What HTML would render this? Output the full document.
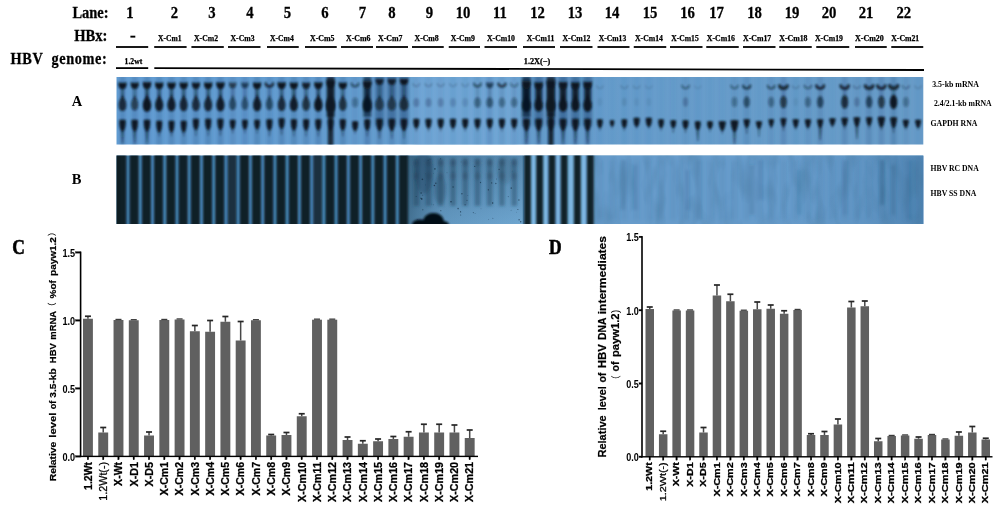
<!DOCTYPE html>
<html><head><meta charset="utf-8"><title>Figure</title>
<style>html,body{margin:0;padding:0;background:#fff}svg{display:block}</style></head>
<body><svg width="1000" height="510" viewBox="0 0 1000 510">
<rect width="1000" height="510" fill="#fff"/>
<g font-family="'Liberation Serif',serif" font-weight="bold" fill="#000" stroke="#000" stroke-width="0.25">
<text transform="translate(72.4,17.6) scale(1,1.10)" font-size="15.5" textLength="36.2" lengthAdjust="spacingAndGlyphs">Lane:</text>
<text transform="translate(74.2,41.2) scale(1,1.12)" font-size="14.3" textLength="33.2" lengthAdjust="spacingAndGlyphs">HBx:</text>
<text transform="translate(10.5,64) scale(1,1.10)" font-size="14.3" textLength="96.3" lengthAdjust="spacing" style="white-space:pre">HBV  genome:</text>
<text transform="translate(130,17.7) scale(0.95,1.10)" font-size="15.5" text-anchor="middle">1</text>
<text transform="translate(174.5,17.7) scale(0.95,1.10)" font-size="15.5" text-anchor="middle">2</text>
<text transform="translate(212,17.7) scale(0.95,1.10)" font-size="15.5" text-anchor="middle">3</text>
<text transform="translate(250,17.7) scale(0.95,1.10)" font-size="15.5" text-anchor="middle">4</text>
<text transform="translate(287.5,17.7) scale(0.95,1.10)" font-size="15.5" text-anchor="middle">5</text>
<text transform="translate(325,17.7) scale(0.95,1.10)" font-size="15.5" text-anchor="middle">6</text>
<text transform="translate(362.5,17.7) scale(0.95,1.10)" font-size="15.5" text-anchor="middle">7</text>
<text transform="translate(392,17.7) scale(0.95,1.10)" font-size="15.5" text-anchor="middle">8</text>
<text transform="translate(429.5,17.7) scale(0.95,1.10)" font-size="15.5" text-anchor="middle">9</text>
<text transform="translate(463,17.7) scale(0.95,1.10)" font-size="15.5" text-anchor="middle">10</text>
<text transform="translate(500,17.7) scale(0.95,1.10)" font-size="15.5" text-anchor="middle">11</text>
<text transform="translate(537.5,17.7) scale(0.95,1.10)" font-size="15.5" text-anchor="middle">12</text>
<text transform="translate(575,17.7) scale(0.95,1.10)" font-size="15.5" text-anchor="middle">13</text>
<text transform="translate(612,17.7) scale(0.95,1.10)" font-size="15.5" text-anchor="middle">14</text>
<text transform="translate(650,17.7) scale(0.95,1.10)" font-size="15.5" text-anchor="middle">15</text>
<text transform="translate(687.5,17.7) scale(0.95,1.10)" font-size="15.5" text-anchor="middle">16</text>
<text transform="translate(716.5,17.7) scale(0.95,1.10)" font-size="15.5" text-anchor="middle">17</text>
<text transform="translate(754.5,17.7) scale(0.95,1.10)" font-size="15.5" text-anchor="middle">18</text>
<text transform="translate(792,17.7) scale(0.95,1.10)" font-size="15.5" text-anchor="middle">19</text>
<text transform="translate(829,17.7) scale(0.95,1.10)" font-size="15.5" text-anchor="middle">20</text>
<text transform="translate(866,17.7) scale(0.95,1.10)" font-size="15.5" text-anchor="middle">21</text>
<text transform="translate(903.75,17.7) scale(0.95,1.10)" font-size="15.5" text-anchor="middle">22</text>
<text x="158" y="41.2" font-size="8.1" textLength="23.50" lengthAdjust="spacingAndGlyphs">X-Cm1</text>
<text x="194" y="41.2" font-size="8.1" textLength="24.00" lengthAdjust="spacingAndGlyphs">X-Cm2</text>
<text x="230.5" y="41.2" font-size="8.1" textLength="24.00" lengthAdjust="spacingAndGlyphs">X-Cm3</text>
<text x="270" y="41.2" font-size="8.1" textLength="23.75" lengthAdjust="spacingAndGlyphs">X-Cm4</text>
<text x="310" y="41.2" font-size="8.1" textLength="24.50" lengthAdjust="spacingAndGlyphs">X-Cm5</text>
<text x="346" y="41.2" font-size="8.1" textLength="24.50" lengthAdjust="spacingAndGlyphs">X-Cm6</text>
<text x="378" y="41.2" font-size="8.1" textLength="24.50" lengthAdjust="spacingAndGlyphs">X-Cm7</text>
<text x="414.5" y="41.2" font-size="8.1" textLength="24.25" lengthAdjust="spacingAndGlyphs">X-Cm8</text>
<text x="450.75" y="41.2" font-size="8.1" textLength="24.25" lengthAdjust="spacingAndGlyphs">X-Cm9</text>
<text x="487" y="41.2" font-size="8.1" textLength="28.00" lengthAdjust="spacingAndGlyphs">X-Cm10</text>
<text x="526.75" y="41.2" font-size="8.1" textLength="27.50" lengthAdjust="spacingAndGlyphs">X-Cm11</text>
<text x="562.5" y="41.2" font-size="8.1" textLength="28.00" lengthAdjust="spacingAndGlyphs">X-Cm12</text>
<text x="598.75" y="41.2" font-size="8.1" textLength="27.50" lengthAdjust="spacingAndGlyphs">X-Cm13</text>
<text x="635" y="41.2" font-size="8.1" textLength="28.00" lengthAdjust="spacingAndGlyphs">X-Cm14</text>
<text x="671.25" y="41.2" font-size="8.1" textLength="27.50" lengthAdjust="spacingAndGlyphs">X-Cm15</text>
<text x="706.75" y="41.2" font-size="8.1" textLength="28.25" lengthAdjust="spacingAndGlyphs">X-Cm16</text>
<text x="743" y="41.2" font-size="8.1" textLength="28.25" lengthAdjust="spacingAndGlyphs">X-Cm17</text>
<text x="779.25" y="41.2" font-size="8.1" textLength="28.25" lengthAdjust="spacingAndGlyphs">X-Cm18</text>
<text x="815" y="41.2" font-size="8.1" textLength="28.00" lengthAdjust="spacingAndGlyphs">X-Cm19</text>
<text x="855" y="41.2" font-size="8.1" textLength="28.75" lengthAdjust="spacingAndGlyphs">X-Cm20</text>
<text x="891.25" y="41.2" font-size="8.1" textLength="28.00" lengthAdjust="spacingAndGlyphs">X-Cm21</text>
<text x="124.6" y="64" font-size="7.4" textLength="17.6" lengthAdjust="spacingAndGlyphs">1.2wt</text>
<text x="523.75" y="64" font-size="7.4" textLength="26.5" lengthAdjust="spacingAndGlyphs">1.2X(−)</text>
</g>
<rect x="130.4" y="35.7" width="4.9" height="1.9" fill="#000"/>
<rect x="116" y="46.1" width="32.20" height="1.8" fill="#000"/>
<rect x="154.2" y="46.1" width="32.40" height="1.8" fill="#000"/>
<rect x="191.4" y="46.1" width="32.40" height="1.8" fill="#000"/>
<rect x="228" y="46.1" width="32.50" height="1.8" fill="#000"/>
<rect x="267" y="46.1" width="31.75" height="1.8" fill="#000"/>
<rect x="305" y="46.1" width="31.75" height="1.8" fill="#000"/>
<rect x="341" y="46.1" width="32.00" height="1.8" fill="#000"/>
<rect x="376" y="46.1" width="32.00" height="1.8" fill="#000"/>
<rect x="412" y="46.1" width="31.75" height="1.8" fill="#000"/>
<rect x="448.75" y="46.1" width="31.25" height="1.8" fill="#000"/>
<rect x="484.5" y="46.1" width="32.50" height="1.8" fill="#000"/>
<rect x="523" y="46.1" width="32.00" height="1.8" fill="#000"/>
<rect x="560" y="46.1" width="32.50" height="1.8" fill="#000"/>
<rect x="597.5" y="46.1" width="32.00" height="1.8" fill="#000"/>
<rect x="633.75" y="46.1" width="32.50" height="1.8" fill="#000"/>
<rect x="670" y="46.1" width="32.50" height="1.8" fill="#000"/>
<rect x="706.25" y="46.1" width="32.50" height="1.8" fill="#000"/>
<rect x="743" y="46.1" width="32.50" height="1.8" fill="#000"/>
<rect x="779.25" y="46.1" width="32.50" height="1.8" fill="#000"/>
<rect x="816.25" y="46.1" width="33.00" height="1.8" fill="#000"/>
<rect x="855" y="46.1" width="31.75" height="1.8" fill="#000"/>
<rect x="891.25" y="46.1" width="32.00" height="1.8" fill="#000"/>
<rect x="116" y="67.2" width="32.2" height="1.8" fill="#000"/>
<path d="M154.3 67.2 L924 69.1 L924 70.9 L154.3 69.0Z" fill="#000"/>
<g font-family="'Liberation Serif',serif" font-weight="bold" fill="#000">
<text x="71.7" y="106.3" font-size="14.5">A</text>
<text x="71.7" y="183.6" font-size="14.5">B</text>
<text transform="translate(12.2,253.8) scale(1,1.2)" font-size="17.5" stroke="#000" stroke-width="0.5">C</text>
<text transform="translate(549,253.6) scale(1,1.2)" font-size="17.5" stroke="#000" stroke-width="0.5">D</text>
<text x="932.2" y="87.19999999999999" font-size="8.3" textLength="46.80" lengthAdjust="spacingAndGlyphs">3.5-kb mRNA</text>
<text x="934" y="106.19999999999999" font-size="8.3" textLength="57.70" lengthAdjust="spacingAndGlyphs">2.4/2.1-kb mRNA</text>
<text x="930.5" y="125.69999999999999" font-size="8.3" textLength="46.90" lengthAdjust="spacingAndGlyphs">GAPDH RNA</text>
<text x="930.5" y="170.6" font-size="8.3" textLength="48.25" lengthAdjust="spacingAndGlyphs">HBV RC DNA</text>
<text x="930.5" y="195.6" font-size="8.3" textLength="45.80" lengthAdjust="spacingAndGlyphs">HBV SS DNA</text>
</g>
<defs>
<filter id="b1" x="-50%" y="-50%" width="200%" height="200%"><feGaussianBlur stdDeviation="1.1"/></filter>
<filter id="b2" x="-50%" y="-50%" width="200%" height="200%"><feGaussianBlur stdDeviation="1.8"/></filter>
<filter id="b3" x="-50%" y="-50%" width="200%" height="200%"><feGaussianBlur stdDeviation="0.9"/></filter>
<clipPath id="ca"><rect x="116.5" y="77" width="806.8" height="67.5"/></clipPath>
<clipPath id="cb"><rect x="116.5" y="155.5" width="806.8" height="68.5"/></clipPath>
</defs>
<linearGradient id="ga" x1="0" x2="1" y1="0" y2="0"><stop offset="0" stop-color="#639dd3"/><stop offset="0.45" stop-color="#669dcd"/><stop offset="1" stop-color="#689cc8"/></linearGradient>
<rect x="116.5" y="77" width="806.8" height="67.5" fill="url(#ga)"/>
<filter id="b15" x="-50%" y="-50%" width="200%" height="200%"><feGaussianBlur stdDeviation="1.25"/></filter>
<g clip-path="url(#ca)">
<linearGradient id="gl" x1="0" x2="1" y1="0" y2="0"><stop offset="0" stop-color="#78acda" stop-opacity="0"/><stop offset="0.12" stop-color="#78acda" stop-opacity="0.6"/><stop offset="0.88" stop-color="#78acda" stop-opacity="0.6"/><stop offset="1" stop-color="#78acda" stop-opacity="0"/></linearGradient>
<rect x="404" y="76" width="124" height="70" fill="url(#gl)"/>
<g filter="url(#b2)">
<rect x="119.5" y="76" width="6" height="70" fill="#2c5c92" opacity="0.31"/>
<rect x="131.7" y="76" width="6" height="70" fill="#2c5c92" opacity="0.29"/>
<rect x="144.0" y="76" width="6" height="70" fill="#2c5c92" opacity="0.34"/>
<rect x="156.2" y="76" width="6" height="70" fill="#2c5c92" opacity="0.31"/>
<rect x="168.5" y="76" width="6" height="70" fill="#2c5c92" opacity="0.31"/>
<rect x="180.7" y="76" width="6" height="70" fill="#2c5c92" opacity="0.31"/>
<rect x="192.9" y="76" width="6" height="70" fill="#2c5c92" opacity="0.29"/>
<rect x="205.2" y="76" width="6" height="70" fill="#2c5c92" opacity="0.31"/>
<rect x="217.4" y="76" width="6" height="70" fill="#2c5c92" opacity="0.32"/>
<rect x="229.7" y="76" width="6" height="70" fill="#2c5c92" opacity="0.22"/>
<rect x="241.9" y="76" width="6" height="70" fill="#2c5c92" opacity="0.21"/>
<rect x="254.1" y="76" width="6" height="70" fill="#2c5c92" opacity="0.31"/>
<rect x="266.4" y="76" width="6" height="70" fill="#2c5c92" opacity="0.21"/>
<rect x="278.6" y="76" width="6" height="70" fill="#2c5c92" opacity="0.32"/>
<rect x="290.9" y="76" width="6" height="70" fill="#2c5c92" opacity="0.31"/>
<rect x="303.1" y="76" width="6" height="70" fill="#2c5c92" opacity="0.28"/>
<rect x="315.3" y="76" width="6" height="70" fill="#2c5c92" opacity="0.32"/>
<rect x="327.6" y="76" width="6" height="70" fill="#2c5c92" opacity="0.43"/>
<rect x="339.8" y="76" width="6" height="70" fill="#2c5c92" opacity="0.31"/>
<rect x="352.1" y="76" width="6" height="70" fill="#2c5c92" opacity="0.13"/>
<rect x="364.3" y="76" width="6" height="70" fill="#2c5c92" opacity="0.38"/>
<rect x="376.5" y="76" width="6" height="70" fill="#2c5c92" opacity="0.28"/>
<rect x="374.5" y="76" width="10" height="50" fill="#1d426e" opacity="0.35"/>
<rect x="388.8" y="76" width="6" height="70" fill="#2c5c92" opacity="0.28"/>
<rect x="386.8" y="76" width="10" height="50" fill="#1d426e" opacity="0.35"/>
<rect x="401.0" y="76" width="6" height="70" fill="#2c5c92" opacity="0.31"/>
<rect x="399.0" y="76" width="10" height="50" fill="#1d426e" opacity="0.35"/>
<rect x="413.3" y="76" width="6" height="70" fill="#2c5c92" opacity="0.10"/>
<rect x="425.5" y="76" width="6" height="70" fill="#2c5c92" opacity="0.10"/>
<rect x="437.7" y="76" width="6" height="70" fill="#2c5c92" opacity="0.09"/>
<rect x="450.0" y="76" width="6" height="70" fill="#2c5c92" opacity="0.08"/>
<rect x="462.2" y="76" width="6" height="70" fill="#2c5c92" opacity="0.08"/>
<rect x="474.5" y="76" width="6" height="70" fill="#2c5c92" opacity="0.16"/>
<rect x="486.7" y="76" width="6" height="70" fill="#2c5c92" opacity="0.21"/>
<rect x="498.9" y="76" width="6" height="70" fill="#2c5c92" opacity="0.16"/>
<rect x="511.2" y="76" width="6" height="70" fill="#2c5c92" opacity="0.14"/>
<rect x="523.4" y="76" width="6" height="70" fill="#2c5c92" opacity="0.38"/>
<rect x="521.4" y="76" width="10" height="50" fill="#1d426e" opacity="0.35"/>
<rect x="535.7" y="76" width="6" height="70" fill="#2c5c92" opacity="0.32"/>
<rect x="533.7" y="76" width="10" height="50" fill="#1d426e" opacity="0.35"/>
<rect x="547.9" y="76" width="6" height="70" fill="#2c5c92" opacity="0.41"/>
<rect x="545.9" y="76" width="10" height="50" fill="#1d426e" opacity="0.35"/>
<rect x="560.1" y="76" width="6" height="70" fill="#2c5c92" opacity="0.34"/>
<rect x="558.1" y="76" width="10" height="50" fill="#1d426e" opacity="0.35"/>
<rect x="572.4" y="76" width="6" height="70" fill="#2c5c92" opacity="0.32"/>
<rect x="570.4" y="76" width="10" height="50" fill="#1d426e" opacity="0.35"/>
<rect x="584.6" y="76" width="6" height="70" fill="#2c5c92" opacity="0.35"/>
<rect x="582.6" y="76" width="10" height="50" fill="#1d426e" opacity="0.35"/>
<rect x="596.9" y="76" width="6" height="70" fill="#2c5c92" opacity="0.06"/>
<rect x="609.1" y="76" width="6" height="70" fill="#2c5c92" opacity="0.04"/>
<rect x="621.3" y="76" width="6" height="70" fill="#2c5c92" opacity="0.07"/>
<rect x="633.6" y="76" width="6" height="70" fill="#2c5c92" opacity="0.06"/>
<rect x="645.8" y="76" width="6" height="70" fill="#2c5c92" opacity="0.06"/>
<rect x="658.1" y="76" width="6" height="70" fill="#2c5c92" opacity="0.04"/>
<rect x="670.3" y="76" width="6" height="70" fill="#2c5c92" opacity="0.04"/>
<rect x="682.5" y="76" width="6" height="70" fill="#2c5c92" opacity="0.13"/>
<rect x="694.8" y="76" width="6" height="70" fill="#2c5c92" opacity="0.06"/>
<rect x="707.0" y="76" width="6" height="70" fill="#2c5c92" opacity="0.04"/>
<rect x="719.3" y="76" width="6" height="70" fill="#2c5c92" opacity="0.04"/>
<rect x="731.5" y="76" width="6" height="70" fill="#2c5c92" opacity="0.13"/>
<rect x="743.7" y="76" width="6" height="70" fill="#2c5c92" opacity="0.19"/>
<rect x="756.0" y="76" width="6" height="70" fill="#2c5c92" opacity="0.04"/>
<rect x="768.2" y="76" width="6" height="70" fill="#2c5c92" opacity="0.14"/>
<rect x="780.5" y="76" width="6" height="70" fill="#2c5c92" opacity="0.26"/>
<rect x="792.7" y="76" width="6" height="70" fill="#2c5c92" opacity="0.07"/>
<rect x="804.9" y="76" width="6" height="70" fill="#2c5c92" opacity="0.14"/>
<rect x="817.2" y="76" width="6" height="70" fill="#2c5c92" opacity="0.22"/>
<rect x="829.4" y="76" width="6" height="70" fill="#2c5c92" opacity="0.04"/>
<rect x="841.7" y="76" width="6" height="70" fill="#2c5c92" opacity="0.26"/>
<rect x="853.9" y="76" width="6" height="70" fill="#2c5c92" opacity="0.10"/>
<rect x="866.1" y="76" width="6" height="70" fill="#2c5c92" opacity="0.26"/>
<rect x="878.4" y="76" width="6" height="70" fill="#2c5c92" opacity="0.25"/>
<rect x="890.6" y="76" width="6" height="70" fill="#2c5c92" opacity="0.31"/>
<rect x="902.9" y="76" width="6" height="70" fill="#2c5c92" opacity="0.13"/>
<rect x="915.1" y="76" width="6" height="70" fill="#2c5c92" opacity="0.06"/>
</g>
<g filter="url(#b15)">
<path d="M122.5 94.5 C124.0 98.7 126.4 100.3 126.4 104.9 C126.4 113.2 118.6 113.2 118.6 104.9 C118.6 100.3 121.0 98.7 122.5 94.5Z" fill="#0a1823" opacity="0.84"/>
<rect x="120.9" y="85" width="3.2" height="15" fill="#0a1823" opacity="0.40"/>
<path d="M134.7 94.9 C136.2 98.8 138.3 100.4 138.3 104.6 C138.3 112.6 131.1 112.6 131.1 104.6 C131.1 100.4 133.3 98.8 134.7 94.9Z" fill="#0a1823" opacity="0.68"/>
<rect x="133.1" y="85" width="3.2" height="15" fill="#0a1823" opacity="0.28"/>
<path d="M147.0 94.0 C148.7 98.5 151.2 100.3 151.2 105.2 C151.2 114.0 142.8 114.0 142.8 105.2 C142.8 100.3 145.3 98.5 147.0 94.0Z" fill="#0a1823" opacity="1.00"/>
<rect x="145.4" y="85" width="3.2" height="15" fill="#0a1823" opacity="0.56"/>
<path d="M159.2 94.2 C160.8 98.6 163.2 100.3 163.2 105.0 C163.2 113.6 155.2 113.6 155.2 105.0 C155.2 100.3 157.6 98.6 159.2 94.2Z" fill="#0a1823" opacity="0.95"/>
<rect x="157.6" y="85" width="3.2" height="15" fill="#0a1823" opacity="0.48"/>
<path d="M171.5 94.2 C173.1 98.6 175.5 100.3 175.5 105.0 C175.5 113.6 167.4 113.6 167.4 105.0 C167.4 100.3 169.8 98.6 171.5 94.2Z" fill="#0a1823" opacity="0.95"/>
<rect x="169.9" y="85" width="3.2" height="15" fill="#0a1823" opacity="0.48"/>
<path d="M183.7 94.4 C185.3 98.6 187.6 100.3 187.6 104.9 C187.6 113.4 179.8 113.4 179.8 104.9 C179.8 100.3 182.1 98.6 183.7 94.4Z" fill="#0a1823" opacity="0.89"/>
<rect x="182.1" y="85" width="3.2" height="15" fill="#0a1823" opacity="0.44"/>
<path d="M195.9 94.5 C197.5 98.7 199.8 100.3 199.8 104.9 C199.8 113.2 192.1 113.2 192.1 104.9 C192.1 100.3 194.4 98.7 195.9 94.5Z" fill="#0a1823" opacity="0.84"/>
<rect x="194.3" y="85" width="3.2" height="15" fill="#0a1823" opacity="0.40"/>
<path d="M208.2 94.4 C209.8 98.6 212.1 100.3 212.1 104.9 C212.1 113.4 204.2 113.4 204.2 104.9 C204.2 100.3 206.6 98.6 208.2 94.4Z" fill="#0a1823" opacity="0.89"/>
<rect x="206.6" y="85" width="3.2" height="15" fill="#0a1823" opacity="0.44"/>
<path d="M220.4 94.2 C222.0 98.6 224.5 100.3 224.5 105.0 C224.5 113.6 216.4 113.6 216.4 105.0 C216.4 100.3 218.8 98.6 220.4 94.2Z" fill="#0a1823" opacity="0.95"/>
<rect x="218.8" y="85" width="3.2" height="15" fill="#0a1823" opacity="0.48"/>
<path d="M232.7 95.1 C234.0 98.9 236.1 100.4 236.1 104.5 C236.1 112.2 229.2 112.2 229.2 104.5 C229.2 100.4 231.3 98.9 232.7 95.1Z" fill="#0a1823" opacity="0.58"/>
<rect x="231.1" y="85" width="3.2" height="15" fill="#0a1823" opacity="0.20"/>
<path d="M244.9 95.2 C246.2 98.9 248.2 100.4 248.2 104.4 C248.2 112.0 241.6 112.0 241.6 104.4 C241.6 100.4 243.6 98.9 244.9 95.2Z" fill="#0a1823" opacity="0.53"/>
<rect x="243.3" y="85" width="3.2" height="15" fill="#0a1823" opacity="0.16"/>
<path d="M257.1 94.2 C258.8 98.6 261.2 100.3 261.2 105.0 C261.2 113.6 253.1 113.6 253.1 105.0 C253.1 100.3 255.5 98.6 257.1 94.2Z" fill="#0a1823" opacity="0.95"/>
<rect x="255.5" y="85" width="3.2" height="15" fill="#0a1823" opacity="0.48"/>
<path d="M269.4 95.1 C270.8 98.9 272.8 100.4 272.8 104.5 C272.8 112.2 265.9 112.2 265.9 104.5 C265.9 100.4 268.0 98.9 269.4 95.1Z" fill="#0a1823" opacity="0.58"/>
<rect x="267.8" y="85" width="3.2" height="15" fill="#0a1823" opacity="0.20"/>
<path d="M281.6 94.5 C283.2 98.7 285.5 100.3 285.5 104.9 C285.5 113.2 277.8 113.2 277.8 104.9 C277.8 100.3 280.1 98.7 281.6 94.5Z" fill="#0a1823" opacity="0.84"/>
<rect x="280.0" y="85" width="3.2" height="15" fill="#0a1823" opacity="0.40"/>
<path d="M293.9 94.2 C295.5 98.6 297.9 100.3 297.9 105.0 C297.9 113.6 289.8 113.6 289.8 105.0 C289.8 100.3 292.2 98.6 293.9 94.2Z" fill="#0a1823" opacity="0.95"/>
<rect x="292.3" y="85" width="3.2" height="15" fill="#0a1823" opacity="0.48"/>
<path d="M306.1 94.6 C307.6 98.7 309.9 100.4 309.9 104.8 C309.9 113.0 302.3 113.0 302.3 104.8 C302.3 100.4 304.6 98.7 306.1 94.6Z" fill="#0a1823" opacity="0.79"/>
<rect x="304.5" y="85" width="3.2" height="15" fill="#0a1823" opacity="0.36"/>
<path d="M318.3 94.1 C320.0 98.5 322.5 100.3 322.5 105.1 C322.5 113.8 314.2 113.8 314.2 105.1 C314.2 100.3 316.7 98.5 318.3 94.1Z" fill="#0a1823" opacity="1.00"/>
<rect x="316.7" y="85" width="3.2" height="15" fill="#0a1823" opacity="0.52"/>
<path d="M330.6 93.2 C332.5 98.2 335.3 100.2 335.3 105.6 C335.3 115.2 325.9 115.2 325.9 105.6 C325.9 100.2 328.7 98.2 330.6 93.2Z" fill="#0a1823" opacity="1.00"/>
<rect x="329.0" y="85" width="3.2" height="15" fill="#0a1823" opacity="0.80"/>
<path d="M342.8 94.6 C344.3 98.7 346.6 100.4 346.6 104.8 C346.6 113.0 339.0 113.0 339.0 104.8 C339.0 100.4 341.3 98.7 342.8 94.6Z" fill="#0a1823" opacity="0.79"/>
<rect x="341.2" y="85" width="3.2" height="15" fill="#0a1823" opacity="0.36"/>
<ellipse cx="355.1" cy="102.5" rx="3.0" ry="4.9" fill="#0a1823" opacity="0.33"/>
<path d="M367.3 93.6 C369.1 98.4 371.8 100.3 371.8 105.4 C371.8 114.6 362.8 114.6 362.8 105.4 C362.8 100.3 365.5 98.4 367.3 93.6Z" fill="#0a1823" opacity="1.00"/>
<rect x="365.7" y="85" width="3.2" height="15" fill="#0a1823" opacity="0.68"/>
<path d="M379.5 94.9 C381.2 98.8 383.7 100.4 383.7 104.6 C383.7 112.6 375.3 112.6 375.3 104.6 C375.3 100.4 377.9 98.8 379.5 94.9Z" fill="#0a1823" opacity="0.68"/>
<rect x="377.9" y="85" width="3.2" height="15" fill="#0a1823" opacity="0.28"/>
<path d="M391.8 94.9 C393.5 98.8 396.0 100.4 396.0 104.6 C396.0 112.6 387.6 112.6 387.6 104.6 C387.6 100.4 390.1 98.8 391.8 94.9Z" fill="#0a1823" opacity="0.68"/>
<rect x="390.2" y="85" width="3.2" height="15" fill="#0a1823" opacity="0.28"/>
<path d="M404.0 94.6 C405.8 98.7 408.4 100.4 408.4 104.8 C408.4 113.0 399.6 113.0 399.6 104.8 C399.6 100.4 402.3 98.7 404.0 94.6Z" fill="#0a1823" opacity="0.79"/>
<rect x="402.4" y="85" width="3.2" height="15" fill="#0a1823" opacity="0.36"/>
<ellipse cx="416.3" cy="102.5" rx="2.9" ry="4.6" fill="#0a1823" opacity="0.22"/>
<ellipse cx="428.5" cy="102.5" rx="2.9" ry="4.6" fill="#0a1823" opacity="0.22"/>
<ellipse cx="440.7" cy="102.5" rx="2.9" ry="4.5" fill="#0a1823" opacity="0.20"/>
<ellipse cx="453.0" cy="102.5" rx="2.8" ry="4.5" fill="#0a1823" opacity="0.17"/>
<ellipse cx="465.2" cy="102.5" rx="2.8" ry="4.4" fill="#0a1823" opacity="0.13"/>
<ellipse cx="477.5" cy="102.5" rx="3.2" ry="5.2" fill="#0a1823" opacity="0.44"/>
<rect x="475.9" y="85" width="3.2" height="15" fill="#0a1823" opacity="0.08"/>
<ellipse cx="489.7" cy="102.5" rx="3.3" ry="5.3" fill="#0a1823" opacity="0.50"/>
<rect x="488.1" y="85" width="3.2" height="15" fill="#0a1823" opacity="0.12"/>
<ellipse cx="501.9" cy="102.5" rx="3.1" ry="5.0" fill="#0a1823" opacity="0.39"/>
<rect x="500.3" y="85" width="3.2" height="15" fill="#0a1823" opacity="0.04"/>
<ellipse cx="514.2" cy="102.5" rx="3.1" ry="5.0" fill="#0a1823" opacity="0.39"/>
<rect x="512.6" y="85" width="3.2" height="15" fill="#0a1823" opacity="0.04"/>
<path d="M526.4 93.8 C528.2 98.4 530.8 100.3 530.8 105.3 C530.8 114.4 522.1 114.4 522.1 105.3 C522.1 100.3 524.7 98.4 526.4 93.8Z" fill="#0a1823" opacity="1.00"/>
<rect x="523.4" y="85" width="6.0" height="15" fill="#0a1823" opacity="0.90"/>
<path d="M538.7 94.1 C540.3 98.5 542.8 100.3 542.8 105.1 C542.8 113.8 534.5 113.8 534.5 105.1 C534.5 100.3 537.0 98.5 538.7 94.1Z" fill="#0a1823" opacity="1.00"/>
<rect x="535.7" y="85" width="6.0" height="15" fill="#0a1823" opacity="0.90"/>
<path d="M550.9 93.5 C552.7 98.3 555.4 100.3 555.4 105.5 C555.4 114.8 546.4 114.8 546.4 105.5 C546.4 100.3 549.1 98.3 550.9 93.5Z" fill="#0a1823" opacity="1.00"/>
<rect x="547.9" y="85" width="6.0" height="15" fill="#0a1823" opacity="0.90"/>
<path d="M563.1 94.0 C564.8 98.5 567.3 100.3 567.3 105.2 C567.3 114.0 558.9 114.0 558.9 105.2 C558.9 100.3 561.5 98.5 563.1 94.0Z" fill="#0a1823" opacity="1.00"/>
<rect x="560.1" y="85" width="6.0" height="15" fill="#0a1823" opacity="0.90"/>
<path d="M575.4 94.1 C577.0 98.5 579.5 100.3 579.5 105.1 C579.5 113.8 571.3 113.8 571.3 105.1 C571.3 100.3 573.7 98.5 575.4 94.1Z" fill="#0a1823" opacity="1.00"/>
<rect x="572.4" y="85" width="6.0" height="15" fill="#0a1823" opacity="0.90"/>
<path d="M587.6 94.0 C589.3 98.5 591.8 100.3 591.8 105.2 C591.8 114.0 583.4 114.0 583.4 105.2 C583.4 100.3 585.9 98.5 587.6 94.0Z" fill="#0a1823" opacity="1.00"/>
<rect x="584.6" y="85" width="6.0" height="15" fill="#0a1823" opacity="0.90"/>
<ellipse cx="599.9" cy="102.0" rx="2.4" ry="4.2" fill="#0a1823" opacity="0.06"/>
<ellipse cx="624.3" cy="102.0" rx="2.4" ry="4.3" fill="#0a1823" opacity="0.09"/>
<ellipse cx="636.6" cy="102.0" rx="2.4" ry="4.2" fill="#0a1823" opacity="0.06"/>
<ellipse cx="648.8" cy="102.0" rx="2.4" ry="4.2" fill="#0a1823" opacity="0.06"/>
<ellipse cx="685.5" cy="102.0" rx="2.6" ry="4.7" fill="#0a1823" opacity="0.22"/>
<ellipse cx="734.5" cy="102.0" rx="2.8" ry="5.1" fill="#0a1823" opacity="0.33"/>
<ellipse cx="746.7" cy="102.0" rx="3.1" ry="5.8" fill="#0a1823" opacity="0.55"/>
<rect x="745.1" y="85" width="3.2" height="15" fill="#0a1823" opacity="0.02"/>
<ellipse cx="771.2" cy="102.0" rx="2.9" ry="5.3" fill="#0a1823" opacity="0.39"/>
<ellipse cx="783.5" cy="102.0" rx="3.3" ry="6.3" fill="#0a1823" opacity="0.72"/>
<rect x="781.9" y="85" width="3.2" height="15" fill="#0a1823" opacity="0.10"/>
<ellipse cx="795.7" cy="102.0" rx="2.4" ry="4.2" fill="#0a1823" opacity="0.06"/>
<ellipse cx="807.9" cy="102.0" rx="2.9" ry="5.3" fill="#0a1823" opacity="0.39"/>
<ellipse cx="820.2" cy="102.0" rx="3.2" ry="6.0" fill="#0a1823" opacity="0.61"/>
<rect x="818.6" y="85" width="3.2" height="15" fill="#0a1823" opacity="0.05"/>
<ellipse cx="844.7" cy="102.0" rx="3.5" ry="6.7" fill="#0a1823" opacity="0.83"/>
<rect x="843.1" y="85" width="3.2" height="15" fill="#0a1823" opacity="0.15"/>
<ellipse cx="856.9" cy="102.0" rx="2.6" ry="4.7" fill="#0a1823" opacity="0.22"/>
<ellipse cx="869.1" cy="102.0" rx="3.2" ry="6.0" fill="#0a1823" opacity="0.61"/>
<rect x="867.5" y="85" width="3.2" height="15" fill="#0a1823" opacity="0.05"/>
<ellipse cx="881.4" cy="102.0" rx="3.3" ry="6.3" fill="#0a1823" opacity="0.72"/>
<rect x="879.8" y="85" width="3.2" height="15" fill="#0a1823" opacity="0.10"/>
<ellipse cx="893.6" cy="102.0" rx="3.7" ry="7.2" fill="#0a1823" opacity="0.99"/>
<rect x="892.0" y="85" width="3.2" height="15" fill="#0a1823" opacity="0.23"/>
<ellipse cx="905.9" cy="102.0" rx="2.8" ry="5.1" fill="#0a1823" opacity="0.33"/>
</g>
<g filter="url(#b1)">
<path d="M118.4 82.2 Q122.5 83.4 126.6 82.2 L126.6 84.3 C126.6 90.8 118.4 90.8 118.4 84.3Z" fill="#0a1823" opacity="1.00"/>
<path d="M119.3 119.9 Q122.5 118.9 125.7 119.9 L125.7 123.1 C125.4 134.3 119.6 134.3 119.3 123.1Z" fill="#0a1823" opacity="0.98"/>
<path d="M120.8 128.5 L124.2 128.5 L123.0 143.5 L122.0 143.5Z" fill="#0a1823" opacity="0.5"/>
<path d="M130.7 82.2 Q134.7 83.4 138.8 82.2 L138.8 84.3 C138.8 90.7 130.7 90.7 130.7 84.3Z" fill="#0a1823" opacity="0.98"/>
<path d="M131.5 119.9 Q134.7 118.9 137.9 119.9 L137.9 123.1 C137.6 134.3 131.9 134.3 131.5 123.1Z" fill="#0a1823" opacity="0.98"/>
<path d="M133.0 128.5 L136.4 128.5 L135.2 143.5 L134.2 143.5Z" fill="#0a1823" opacity="0.5"/>
<path d="M142.8 81.7 Q147.0 82.9 151.2 81.7 L151.2 83.9 C151.2 90.7 142.8 90.7 142.8 83.9Z" fill="#0a1823" opacity="1.00"/>
<path d="M143.8 119.9 Q147.0 118.9 150.2 119.9 L150.2 123.1 C149.9 134.3 144.1 134.3 143.8 123.1Z" fill="#0a1823" opacity="0.98"/>
<path d="M145.3 128.5 L148.7 128.5 L147.5 143.5 L146.5 143.5Z" fill="#0a1823" opacity="0.5"/>
<path d="M155.1 82.2 Q159.2 83.4 163.3 82.2 L163.3 84.3 C163.3 90.8 155.1 90.8 155.1 84.3Z" fill="#0a1823" opacity="1.00"/>
<path d="M156.3 120.9 Q159.2 119.9 162.1 120.9 L162.1 124.1 C161.8 135.3 156.6 135.3 156.3 124.1Z" fill="#0a1823" opacity="0.98"/>
<path d="M157.5 129.5 L160.9 129.5 L159.7 136.5 L158.7 136.5Z" fill="#0a1823" opacity="0.32"/>
<path d="M167.4 82.2 Q171.5 83.4 175.6 82.2 L175.6 84.3 C175.6 90.8 167.4 90.8 167.4 84.3Z" fill="#0a1823" opacity="1.00"/>
<path d="M168.6 120.9 Q171.5 119.9 174.4 120.9 L174.4 124.1 C174.1 135.3 168.8 135.3 168.6 124.1Z" fill="#0a1823" opacity="0.98"/>
<path d="M169.8 129.5 L173.2 129.5 L172.0 136.5 L171.0 136.5Z" fill="#0a1823" opacity="0.32"/>
<path d="M179.6 82.2 Q183.7 83.4 187.8 82.2 L187.8 84.3 C187.8 90.8 179.6 90.8 179.6 84.3Z" fill="#0a1823" opacity="1.00"/>
<path d="M180.8 120.9 Q183.7 119.9 186.6 120.9 L186.6 124.1 C186.3 135.3 181.1 135.3 180.8 124.1Z" fill="#0a1823" opacity="0.98"/>
<path d="M182.0 129.5 L185.4 129.5 L184.2 136.5 L183.2 136.5Z" fill="#0a1823" opacity="0.32"/>
<path d="M191.9 82.2 Q195.9 83.4 200.0 82.2 L200.0 84.3 C200.0 90.7 191.9 90.7 191.9 84.3Z" fill="#0a1823" opacity="0.98"/>
<path d="M192.9 118.9 Q195.9 117.9 198.9 118.9 L198.9 122.0 C198.6 132.7 193.2 132.7 192.9 122.0Z" fill="#0a1823" opacity="0.98"/>
<path d="M194.2 127.0 L197.6 127.0 L196.4 136.0 L195.4 136.0Z" fill="#0a1823" opacity="0.32"/>
<path d="M204.1 82.2 Q208.2 83.4 212.3 82.2 L212.3 84.3 C212.3 90.8 204.1 90.8 204.1 84.3Z" fill="#0a1823" opacity="1.00"/>
<path d="M205.2 118.9 Q208.2 117.9 211.2 118.9 L211.2 122.0 C210.9 132.7 205.5 132.7 205.2 122.0Z" fill="#0a1823" opacity="0.98"/>
<path d="M206.5 127.0 L209.9 127.0 L208.7 136.0 L207.7 136.0Z" fill="#0a1823" opacity="0.32"/>
<path d="M216.3 82.0 Q220.4 83.2 224.6 82.0 L224.6 84.1 C224.6 90.8 216.3 90.8 216.3 84.1Z" fill="#0a1823" opacity="1.00"/>
<path d="M217.4 118.9 Q220.4 117.9 223.4 118.9 L223.4 122.0 C223.1 132.7 217.7 132.7 217.4 122.0Z" fill="#0a1823" opacity="0.98"/>
<path d="M218.7 127.0 L222.1 127.0 L220.9 136.0 L219.9 136.0Z" fill="#0a1823" opacity="0.32"/>
<path d="M228.9 82.2 Q232.7 83.4 236.4 82.2 L236.4 84.1 C236.4 89.8 228.9 89.8 228.9 84.1Z" fill="#0a1823" opacity="0.69"/>
<path d="M229.9 119.9 Q232.7 118.9 235.5 119.9 L235.5 122.5 C235.2 131.8 230.1 131.8 229.9 122.5Z" fill="#0a1823" opacity="0.98"/>
<path d="M231.0 126.5 L234.4 126.5 L233.2 133.5 L232.2 133.5Z" fill="#0a1823" opacity="0.32"/>
<path d="M241.2 82.2 Q244.9 83.4 248.6 82.2 L248.6 84.0 C248.6 89.6 241.2 89.6 241.2 84.0Z" fill="#0a1823" opacity="0.63"/>
<path d="M242.1 119.9 Q244.9 118.9 247.7 119.9 L247.7 122.5 C247.4 131.8 242.4 131.8 242.1 122.5Z" fill="#0a1823" opacity="0.98"/>
<path d="M243.2 126.5 L246.6 126.5 L245.4 133.5 L244.4 133.5Z" fill="#0a1823" opacity="0.32"/>
<path d="M253.0 82.2 Q257.1 83.4 261.2 82.2 L261.2 84.3 C261.2 90.8 253.0 90.8 253.0 84.3Z" fill="#0a1823" opacity="1.00"/>
<path d="M254.3 119.9 Q257.1 118.9 259.9 119.9 L259.9 122.5 C259.7 131.8 254.6 131.8 254.3 122.5Z" fill="#0a1823" opacity="0.98"/>
<path d="M255.4 126.5 L258.8 126.5 L257.6 133.5 L256.6 133.5Z" fill="#0a1823" opacity="0.32"/>
<path d="M265.8 83.7 C266.5 87.3 272.3 87.3 273.0 83.7" fill="none" stroke="#0a1823" stroke-width="2.7" stroke-linecap="round" opacity="0.82"/>
<path d="M266.4 119.4 Q269.4 118.4 272.4 119.4 L272.4 122.5 C272.1 133.2 266.7 133.2 266.4 122.5Z" fill="#0a1823" opacity="0.98"/>
<path d="M267.7 127.5 L271.1 127.5 L269.9 136.5 L268.9 136.5Z" fill="#0a1823" opacity="0.32"/>
<path d="M277.5 82.0 Q281.6 83.2 285.8 82.0 L285.8 84.1 C285.8 90.8 277.5 90.8 277.5 84.1Z" fill="#0a1823" opacity="1.00"/>
<path d="M278.6 118.4 Q281.6 117.4 284.6 118.4 L284.6 121.3 C284.3 131.6 278.9 131.6 278.6 121.3Z" fill="#0a1823" opacity="0.98"/>
<path d="M279.9 126.0 L283.3 126.0 L282.1 135.0 L281.1 135.0Z" fill="#0a1823" opacity="0.32"/>
<path d="M289.8 82.2 Q293.9 83.4 297.9 82.2 L297.9 84.3 C297.9 90.8 289.8 90.8 289.8 84.3Z" fill="#0a1823" opacity="1.00"/>
<path d="M290.9 119.4 Q293.9 118.4 296.9 119.4 L296.9 122.5 C296.6 133.2 291.2 133.2 290.9 122.5Z" fill="#0a1823" opacity="0.98"/>
<path d="M292.2 127.5 L295.6 127.5 L294.4 136.5 L293.4 136.5Z" fill="#0a1823" opacity="0.32"/>
<path d="M302.1 82.2 Q306.1 83.4 310.1 82.2 L310.1 84.2 C310.1 90.5 302.1 90.5 302.1 84.2Z" fill="#0a1823" opacity="0.92"/>
<path d="M303.1 119.4 Q306.1 118.4 309.1 119.4 L309.1 122.5 C308.8 133.2 303.4 133.2 303.1 122.5Z" fill="#0a1823" opacity="0.98"/>
<path d="M304.4 127.5 L307.8 127.5 L306.6 136.5 L305.6 136.5Z" fill="#0a1823" opacity="0.32"/>
<path d="M314.2 82.0 Q318.3 83.2 322.5 82.0 L322.5 84.1 C322.5 90.8 314.2 90.8 314.2 84.1Z" fill="#0a1823" opacity="1.00"/>
<path d="M315.3 119.4 Q318.3 118.4 321.3 119.4 L321.3 122.5 C321.0 133.2 315.6 133.2 315.3 122.5Z" fill="#0a1823" opacity="0.98"/>
<path d="M316.6 127.5 L320.0 127.5 L318.8 136.5 L317.8 136.5Z" fill="#0a1823" opacity="0.32"/>
<path d="M326.1 80.2 Q330.6 81.4 335.1 80.2 L335.1 82.6 C335.1 90.2 326.1 90.2 326.1 82.6Z" fill="#0a1823" opacity="1.00"/>
<rect x="326.7" y="77" width="7.8" height="40" fill="#0a1823" opacity="0.85"/>
<rect x="328.0" y="112" width="5.2" height="34" fill="#0a1823" opacity="0.8"/>
<path d="M327.6 119.4 Q330.6 118.4 333.6 119.4 L333.6 122.5 C333.3 133.2 327.9 133.2 327.6 122.5Z" fill="#0a1823" opacity="0.98"/>
<path d="M328.9 127.5 L332.3 127.5 L331.1 136.5 L330.1 136.5Z" fill="#0a1823" opacity="0.32"/>
<path d="M338.7 82.2 Q342.8 83.4 346.9 82.2 L346.9 84.3 C346.9 90.8 338.7 90.8 338.7 84.3Z" fill="#0a1823" opacity="1.00"/>
<path d="M339.8 119.4 Q342.8 118.4 345.8 119.4 L345.8 122.5 C345.5 133.2 340.1 133.2 339.8 122.5Z" fill="#0a1823" opacity="0.98"/>
<path d="M341.1 127.5 L344.5 127.5 L343.3 136.5 L342.3 136.5Z" fill="#0a1823" opacity="0.32"/>
<path d="M351.6 83.7 C352.3 87.3 357.8 87.3 358.5 83.7" fill="none" stroke="#0a1823" stroke-width="2.2" stroke-linecap="round" opacity="0.56"/>
<path d="M352.1 121.4 Q355.1 120.4 358.1 121.4 L358.1 124.0 C357.8 133.3 352.4 133.3 352.1 124.0Z" fill="#0a1823" opacity="0.98"/>
<path d="M353.4 128.0 L356.8 128.0 L355.6 134.0 L354.6 134.0Z" fill="#0a1823" opacity="0.32"/>
<path d="M362.9 81.0 Q367.3 82.2 371.7 81.0 L371.7 83.3 C371.7 90.4 362.9 90.4 362.9 83.3Z" fill="#0a1823" opacity="1.00"/>
<rect x="363.4" y="77" width="7.8" height="40" fill="#0a1823" opacity="0.59"/>
<path d="M364.3 119.4 Q367.3 118.4 370.3 119.4 L370.3 122.5 C370.0 133.2 364.6 133.2 364.3 122.5Z" fill="#0a1823" opacity="0.98"/>
<path d="M365.6 127.5 L369.0 127.5 L367.8 136.5 L366.8 136.5Z" fill="#0a1823" opacity="0.32"/>
<path d="M375.6 78.5 Q379.5 79.7 383.5 78.5 L383.5 80.5 C383.5 86.8 375.6 86.8 375.6 80.5Z" fill="#0a1823" opacity="0.92"/>
<path d="M376.3 118.9 Q379.5 117.9 382.7 118.9 L382.7 122.2 C382.4 133.9 376.7 133.9 376.3 122.2Z" fill="#0a1823" opacity="0.98"/>
<path d="M377.8 128.0 L381.2 128.0 L380.0 139.0 L379.0 139.0Z" fill="#0a1823" opacity="0.32"/>
<path d="M387.8 78.5 Q391.8 79.7 395.8 78.5 L395.8 80.5 C395.8 86.8 387.8 86.8 387.8 80.5Z" fill="#0a1823" opacity="0.92"/>
<path d="M388.6 118.9 Q391.8 117.9 395.0 118.9 L395.0 122.2 C394.7 133.9 388.9 133.9 388.6 122.2Z" fill="#0a1823" opacity="0.98"/>
<path d="M390.1 128.0 L393.5 128.0 L392.3 139.0 L391.3 139.0Z" fill="#0a1823" opacity="0.32"/>
<path d="M399.9 78.5 Q404.0 79.7 408.1 78.5 L408.1 80.6 C408.1 87.1 399.9 87.1 399.9 80.6Z" fill="#0a1823" opacity="1.00"/>
<path d="M400.8 118.9 Q404.0 117.9 407.2 118.9 L407.2 122.2 C406.9 133.9 401.1 133.9 400.8 122.2Z" fill="#0a1823" opacity="0.98"/>
<path d="M402.3 128.0 L405.7 128.0 L404.5 139.0 L403.5 139.0Z" fill="#0a1823" opacity="0.32"/>
<path d="M413.1 83.7 C413.7 87.3 418.8 87.3 419.5 83.7" fill="none" stroke="#0a1823" stroke-width="1.5" stroke-linecap="round" opacity="0.22"/>
<path d="M413.3 118.9 Q416.3 117.9 419.3 118.9 L419.3 121.5 C419.0 130.8 413.6 130.8 413.3 121.5Z" fill="#0a1823" opacity="0.98"/>
<path d="M414.6 125.5 L418.0 125.5 L416.8 131.5 L415.8 131.5Z" fill="#0a1823" opacity="0.32"/>
<path d="M425.3 83.7 C425.9 87.3 431.1 87.3 431.7 83.7" fill="none" stroke="#0a1823" stroke-width="1.5" stroke-linecap="round" opacity="0.22"/>
<path d="M425.5 118.9 Q428.5 117.9 431.5 118.9 L431.5 121.5 C431.2 130.8 425.8 130.8 425.5 121.5Z" fill="#0a1823" opacity="0.98"/>
<path d="M426.8 125.5 L430.2 125.5 L429.0 131.5 L428.0 131.5Z" fill="#0a1823" opacity="0.32"/>
<path d="M437.5 83.7 C438.2 87.3 443.3 87.3 443.9 83.7" fill="none" stroke="#0a1823" stroke-width="1.5" stroke-linecap="round" opacity="0.22"/>
<path d="M437.7 118.9 Q440.7 117.9 443.7 118.9 L443.7 121.5 C443.4 130.8 438.0 130.8 437.7 121.5Z" fill="#0a1823" opacity="0.98"/>
<path d="M439.0 125.5 L442.4 125.5 L441.2 131.5 L440.2 131.5Z" fill="#0a1823" opacity="0.32"/>
<path d="M449.8 83.7 C450.4 87.3 455.5 87.3 456.2 83.7" fill="none" stroke="#0a1823" stroke-width="1.5" stroke-linecap="round" opacity="0.19"/>
<path d="M450.0 118.9 Q453.0 117.9 456.0 118.9 L456.0 121.5 C455.7 130.8 450.3 130.8 450.0 121.5Z" fill="#0a1823" opacity="0.98"/>
<path d="M451.3 125.5 L454.7 125.5 L453.5 131.5 L452.5 131.5Z" fill="#0a1823" opacity="0.32"/>
<path d="M462.0 83.7 C462.7 87.3 467.8 87.3 468.4 83.7" fill="none" stroke="#0a1823" stroke-width="1.5" stroke-linecap="round" opacity="0.19"/>
<path d="M462.2 118.9 Q465.2 117.9 468.2 118.9 L468.2 121.5 C467.9 130.8 462.5 130.8 462.2 121.5Z" fill="#0a1823" opacity="0.98"/>
<path d="M463.5 125.5 L466.9 125.5 L465.7 131.5 L464.7 131.5Z" fill="#0a1823" opacity="0.32"/>
<path d="M474.0 83.7 C474.7 87.3 480.2 87.3 480.9 83.7" fill="none" stroke="#0a1823" stroke-width="2.2" stroke-linecap="round" opacity="0.56"/>
<path d="M474.5 118.9 Q477.5 117.9 480.5 118.9 L480.5 121.5 C480.2 130.8 474.8 130.8 474.5 121.5Z" fill="#0a1823" opacity="0.98"/>
<path d="M475.8 125.5 L479.2 125.5 L478.0 131.5 L477.0 131.5Z" fill="#0a1823" opacity="0.32"/>
<path d="M486.0 82.2 Q489.7 83.4 493.4 82.2 L493.4 84.0 C493.4 89.6 486.0 89.6 486.0 84.0Z" fill="#0a1823" opacity="0.63"/>
<path d="M486.7 118.9 Q489.7 117.9 492.7 118.9 L492.7 121.5 C492.4 130.8 487.0 130.8 486.7 121.5Z" fill="#0a1823" opacity="0.98"/>
<path d="M488.0 125.5 L491.4 125.5 L490.2 131.5 L489.2 131.5Z" fill="#0a1823" opacity="0.32"/>
<path d="M498.4 83.7 C499.1 87.3 504.8 87.3 505.5 83.7" fill="none" stroke="#0a1823" stroke-width="2.6" stroke-linecap="round" opacity="0.73"/>
<path d="M498.9 118.9 Q501.9 117.9 504.9 118.9 L504.9 121.5 C504.6 130.8 499.2 130.8 498.9 121.5Z" fill="#0a1823" opacity="0.98"/>
<path d="M500.2 125.5 L503.6 125.5 L502.4 131.5 L501.4 131.5Z" fill="#0a1823" opacity="0.32"/>
<path d="M510.9 83.7 C511.5 87.3 516.8 87.3 517.5 83.7" fill="none" stroke="#0a1823" stroke-width="1.9" stroke-linecap="round" opacity="0.39"/>
<path d="M511.2 118.9 Q514.2 117.9 517.2 118.9 L517.2 121.5 C516.9 130.8 511.5 130.8 511.2 121.5Z" fill="#0a1823" opacity="0.98"/>
<path d="M512.5 125.5 L515.9 125.5 L514.7 131.5 L513.7 131.5Z" fill="#0a1823" opacity="0.32"/>
<path d="M522.1 81.0 Q526.4 82.2 530.8 81.0 L530.8 83.3 C530.8 90.4 522.1 90.4 522.1 83.3Z" fill="#0a1823" opacity="1.00"/>
<rect x="522.5" y="77" width="7.8" height="40" fill="#0a1823" opacity="0.59"/>
<path d="M523.1 118.9 Q526.4 117.9 529.7 118.9 L529.7 122.2 C529.4 133.9 523.5 133.9 523.1 122.2Z" fill="#0a1823" opacity="0.98"/>
<path d="M524.7 128.0 L528.1 128.0 L526.9 144.0 L525.9 144.0Z" fill="#0a1823" opacity="0.5"/>
<path d="M534.5 82.0 Q538.7 83.2 542.8 82.0 L542.8 84.1 C542.8 90.8 534.5 90.8 534.5 84.1Z" fill="#0a1823" opacity="1.00"/>
<path d="M535.4 118.9 Q538.7 117.9 542.0 118.9 L542.0 122.2 C541.6 133.9 535.7 133.9 535.4 122.2Z" fill="#0a1823" opacity="0.98"/>
<path d="M537.0 128.0 L540.4 128.0 L539.2 144.0 L538.2 144.0Z" fill="#0a1823" opacity="0.5"/>
<path d="M546.4 80.5 Q550.9 81.7 555.4 80.5 L555.4 82.9 C555.4 90.3 546.4 90.3 546.4 82.9Z" fill="#0a1823" opacity="1.00"/>
<rect x="547.0" y="77" width="7.8" height="40" fill="#0a1823" opacity="0.76"/>
<rect x="548.3" y="112" width="5.2" height="34" fill="#0a1823" opacity="0.8"/>
<path d="M547.6 118.9 Q550.9 117.9 554.2 118.9 L554.2 122.2 C553.9 133.9 547.9 133.9 547.6 122.2Z" fill="#0a1823" opacity="0.98"/>
<path d="M549.2 128.0 L552.6 128.0 L551.4 144.0 L550.4 144.0Z" fill="#0a1823" opacity="0.5"/>
<path d="M558.9 81.7 Q563.1 82.9 567.3 81.7 L567.3 83.9 C567.3 90.7 558.9 90.7 558.9 83.9Z" fill="#0a1823" opacity="1.00"/>
<path d="M559.8 118.9 Q563.1 117.9 566.4 118.9 L566.4 122.2 C566.1 133.9 560.2 133.9 559.8 122.2Z" fill="#0a1823" opacity="0.98"/>
<path d="M561.4 128.0 L564.8 128.0 L563.6 144.0 L562.6 144.0Z" fill="#0a1823" opacity="0.5"/>
<path d="M571.2 82.0 Q575.4 83.2 579.5 82.0 L579.5 84.1 C579.5 90.8 571.2 90.8 571.2 84.1Z" fill="#0a1823" opacity="1.00"/>
<path d="M572.1 118.9 Q575.4 117.9 578.7 118.9 L578.7 122.2 C578.4 133.9 572.4 133.9 572.1 122.2Z" fill="#0a1823" opacity="0.98"/>
<path d="M573.7 128.0 L577.1 128.0 L575.9 144.0 L574.9 144.0Z" fill="#0a1823" opacity="0.5"/>
<path d="M583.4 81.5 Q587.6 82.7 591.9 81.5 L591.9 83.7 C591.9 90.6 583.4 90.6 583.4 83.7Z" fill="#0a1823" opacity="1.00"/>
<path d="M584.3 118.9 Q587.6 117.9 590.9 118.9 L590.9 122.2 C590.6 133.9 584.6 133.9 584.3 122.2Z" fill="#0a1823" opacity="0.98"/>
<path d="M585.9 128.0 L589.3 128.0 L588.1 144.0 L587.1 144.0Z" fill="#0a1823" opacity="0.5"/>
<path d="M596.7 85.7 C597.3 89.3 602.4 89.3 603.0 85.7" fill="none" stroke="#0a1823" stroke-width="1.2" stroke-linecap="round" opacity="0.16"/>
<path d="M597.1 119.4 Q599.9 118.4 602.7 119.4 L602.7 121.7 C602.4 130.1 597.3 130.1 597.1 121.7Z" fill="#0a1823" opacity="0.98"/>
<path d="M598.2 125.0 L601.6 125.0 L600.4 131.0 L599.4 131.0Z" fill="#0a1823" opacity="0.32"/>
<path d="M609.9 120.4 Q612.1 119.4 614.3 120.4 L614.3 122.0 C614.1 128.0 610.1 128.0 609.9 122.0Z" fill="#0a1823" opacity="0.98"/>
<path d="M610.4 123.5 L613.8 123.5 L612.6 128.5 L611.6 128.5Z" fill="#0a1823" opacity="0.32"/>
<path d="M621.1 85.7 C621.8 89.3 626.9 89.3 627.6 85.7" fill="none" stroke="#0a1823" stroke-width="1.3" stroke-linecap="round" opacity="0.19"/>
<path d="M621.5 119.4 Q624.3 118.4 627.1 119.4 L627.1 121.7 C626.9 130.1 621.8 130.1 621.5 121.7Z" fill="#0a1823" opacity="0.98"/>
<path d="M622.6 125.0 L626.0 125.0 L624.8 131.0 L623.8 131.0Z" fill="#0a1823" opacity="0.32"/>
<path d="M633.4 85.7 C634.0 89.3 639.1 89.3 639.8 85.7" fill="none" stroke="#0a1823" stroke-width="1.2" stroke-linecap="round" opacity="0.16"/>
<path d="M633.6 117.9 Q636.6 116.9 639.6 117.9 L639.6 120.3 C639.3 129.2 633.9 129.2 633.6 120.3Z" fill="#0a1823" opacity="0.98"/>
<path d="M634.9 124.0 L638.3 124.0 L637.1 129.0 L636.1 129.0Z" fill="#0a1823" opacity="0.32"/>
<path d="M645.7 85.7 C646.3 89.3 651.4 89.3 652.0 85.7" fill="none" stroke="#0a1823" stroke-width="1.2" stroke-linecap="round" opacity="0.13"/>
<path d="M645.8 117.9 Q648.8 116.9 651.8 117.9 L651.8 120.3 C651.5 129.2 646.1 129.2 645.8 120.3Z" fill="#0a1823" opacity="0.98"/>
<path d="M647.1 124.0 L650.5 124.0 L649.3 129.0 L648.3 129.0Z" fill="#0a1823" opacity="0.32"/>
<path d="M658.3 119.4 Q661.1 118.4 663.9 119.4 L663.9 121.7 C663.6 130.1 658.5 130.1 658.3 121.7Z" fill="#0a1823" opacity="0.98"/>
<path d="M659.4 125.0 L662.8 125.0 L661.6 131.0 L660.6 131.0Z" fill="#0a1823" opacity="0.32"/>
<path d="M670.5 120.4 Q673.3 119.4 676.1 120.4 L676.1 122.4 C675.8 129.9 670.8 129.9 670.5 122.4Z" fill="#0a1823" opacity="0.98"/>
<path d="M671.6 125.0 L675.0 125.0 L673.8 133.0 L672.8 133.0Z" fill="#0a1823" opacity="0.32"/>
<path d="M682.1 85.7 C682.8 89.3 688.3 89.3 689.0 85.7" fill="none" stroke="#0a1823" stroke-width="1.8" stroke-linecap="round" opacity="0.49"/>
<path d="M682.5 120.4 Q685.5 119.4 688.5 120.4 L688.5 122.7 C688.2 131.1 682.8 131.1 682.5 122.7Z" fill="#0a1823" opacity="0.98"/>
<path d="M683.8 126.0 L687.2 126.0 L686.0 133.0 L685.0 133.0Z" fill="#0a1823" opacity="0.32"/>
<path d="M694.6 85.7 C695.3 89.3 700.3 89.3 700.9 85.7" fill="none" stroke="#0a1823" stroke-width="1.1" stroke-linecap="round" opacity="0.12"/>
<path d="M694.9 121.4 Q697.8 120.4 700.7 121.4 L700.7 123.7 C700.4 132.1 695.2 132.1 694.9 123.7Z" fill="#0a1823" opacity="0.98"/>
<path d="M696.1 127.0 L699.5 127.0 L698.3 141.0 L697.3 141.0Z" fill="#0a1823" opacity="0.5"/>
<path d="M707.2 121.4 Q710.0 120.4 712.8 121.4 L712.8 123.4 C712.5 130.9 707.5 130.9 707.2 123.4Z" fill="#0a1823" opacity="0.98"/>
<path d="M708.3 126.0 L711.7 126.0 L710.5 132.0 L709.5 132.0Z" fill="#0a1823" opacity="0.32"/>
<path d="M718.7 121.4 Q722.3 120.4 725.8 121.4 L725.8 122.5 C724.4 133.8 720.1 133.8 718.7 122.5Z" fill="#0a1823" opacity="0.98"/>
<path d="M720.6 128.0 L724.0 128.0 L722.8 134.0 L721.8 134.0Z" fill="#0a1823" opacity="0.32"/>
<path d="M731.1 85.7 C731.8 89.3 737.2 89.3 737.9 85.7" fill="none" stroke="#0a1823" stroke-width="1.8" stroke-linecap="round" opacity="0.49"/>
<path d="M730.6 120.4 Q734.5 119.4 738.4 120.4 L738.4 121.8 C736.8 135.4 732.2 135.4 730.6 121.8Z" fill="#0a1823" opacity="0.98"/>
<path d="M732.8 129.0 L736.2 129.0 L735.0 144.0 L734.0 144.0Z" fill="#0a1823" opacity="0.5"/>
<path d="M743.1 85.7 C743.9 89.3 749.6 89.3 750.3 85.7" fill="none" stroke="#0a1823" stroke-width="2.2" stroke-linecap="round" opacity="0.72"/>
<path d="M743.6 119.4 Q746.7 118.4 749.9 119.4 L749.9 120.3 C748.6 130.6 744.9 130.6 743.6 120.3Z" fill="#0a1823" opacity="0.98"/>
<path d="M745.0 125.0 L748.4 125.0 L747.2 134.0 L746.2 134.0Z" fill="#0a1823" opacity="0.32"/>
<path d="M755.9 121.4 Q759.0 120.4 762.0 121.4 L762.0 122.2 C760.8 131.3 757.1 131.3 755.9 122.2Z" fill="#0a1823" opacity="0.98"/>
<path d="M757.3 126.0 L760.7 126.0 L759.5 137.0 L758.5 137.0Z" fill="#0a1823" opacity="0.32"/>
<path d="M767.7 85.7 C768.4 89.3 774.0 89.3 774.7 85.7" fill="none" stroke="#0a1823" stroke-width="2.0" stroke-linecap="round" opacity="0.57"/>
<path d="M768.5 119.4 Q771.2 118.4 774.0 119.4 L774.0 120.2 C772.9 129.3 769.6 129.3 768.5 120.2Z" fill="#0a1823" opacity="0.98"/>
<path d="M769.5 124.0 L772.9 124.0 L771.7 129.0 L770.7 129.0Z" fill="#0a1823" opacity="0.32"/>
<path d="M779.5 85.7 C780.3 89.3 786.6 89.3 787.4 85.7" fill="none" stroke="#0a1823" stroke-width="3.1" stroke-linecap="round" opacity="0.88"/>
<path d="M780.5 118.4 Q783.5 117.4 786.4 118.4 L786.4 119.3 C785.2 129.6 781.7 129.6 780.5 119.3Z" fill="#0a1823" opacity="0.98"/>
<path d="M781.8 124.0 L785.2 124.0 L784.0 131.0 L783.0 131.0Z" fill="#0a1823" opacity="0.32"/>
<path d="M792.5 85.7 C793.1 89.3 798.3 89.3 798.9 85.7" fill="none" stroke="#0a1823" stroke-width="1.3" stroke-linecap="round" opacity="0.19"/>
<path d="M792.7 119.4 Q795.7 118.4 798.8 119.4 L798.8 120.3 C797.5 130.6 793.9 130.6 792.7 120.3Z" fill="#0a1823" opacity="0.98"/>
<path d="M794.0 125.0 L797.4 125.0 L796.2 130.0 L795.2 130.0Z" fill="#0a1823" opacity="0.32"/>
<path d="M804.5 85.7 C805.2 89.3 810.7 89.3 811.4 85.7" fill="none" stroke="#0a1823" stroke-width="1.8" stroke-linecap="round" opacity="0.49"/>
<path d="M804.9 119.4 Q807.9 118.4 811.0 119.4 L811.0 120.3 C809.8 130.6 806.1 130.6 804.9 120.3Z" fill="#0a1823" opacity="0.98"/>
<path d="M806.2 125.0 L809.6 125.0 L808.4 130.0 L807.4 130.0Z" fill="#0a1823" opacity="0.32"/>
<path d="M816.4 85.7 C817.2 89.3 823.2 89.3 823.9 85.7" fill="none" stroke="#0a1823" stroke-width="2.7" stroke-linecap="round" opacity="0.88"/>
<path d="M817.1 119.4 Q820.2 118.4 823.2 119.4 L823.2 120.3 C822.0 130.6 818.4 130.6 817.1 120.3Z" fill="#0a1823" opacity="0.98"/>
<path d="M818.5 125.0 L821.9 125.0 L820.7 140.0 L819.7 140.0Z" fill="#0a1823" opacity="0.5"/>
<path d="M829.3 118.4 Q832.4 117.4 835.6 118.4 L835.6 119.2 C834.3 128.3 830.5 128.3 829.3 119.2Z" fill="#0a1823" opacity="0.98"/>
<path d="M830.7 123.0 L834.1 123.0 L832.9 128.0 L831.9 128.0Z" fill="#0a1823" opacity="0.32"/>
<path d="M840.8 85.7 C841.6 89.3 847.8 89.3 848.5 85.7" fill="none" stroke="#0a1823" stroke-width="2.9" stroke-linecap="round" opacity="0.88"/>
<path d="M841.4 117.9 Q844.7 116.9 847.9 117.9 L847.9 118.8 C846.6 129.1 842.7 129.1 841.4 118.8Z" fill="#0a1823" opacity="0.98"/>
<path d="M843.0 123.5 L846.4 123.5 L845.2 129.5 L844.2 129.5Z" fill="#0a1823" opacity="0.32"/>
<path d="M853.6 85.7 C854.3 89.3 859.5 89.3 860.2 85.7" fill="none" stroke="#0a1823" stroke-width="1.4" stroke-linecap="round" opacity="0.27"/>
<path d="M853.6 117.4 Q856.9 116.4 860.1 117.4 L860.1 118.5 C858.9 129.8 854.9 129.8 853.6 118.5Z" fill="#0a1823" opacity="0.98"/>
<path d="M855.2 124.0 L858.6 124.0 L857.4 139.0 L856.4 139.0Z" fill="#0a1823" opacity="0.5"/>
<path d="M865.2 85.7 C866.0 89.3 872.3 89.3 873.1 85.7" fill="none" stroke="#0a1823" stroke-width="3.1" stroke-linecap="round" opacity="0.88"/>
<path d="M866.1 117.4 Q869.1 116.4 872.2 117.4 L872.2 118.3 C871.0 128.6 867.3 128.6 866.1 118.3Z" fill="#0a1823" opacity="0.98"/>
<path d="M867.4 123.0 L870.8 123.0 L869.6 129.0 L868.6 129.0Z" fill="#0a1823" opacity="0.32"/>
<path d="M877.5 85.7 C878.3 89.3 884.5 89.3 885.2 85.7" fill="none" stroke="#0a1823" stroke-width="2.9" stroke-linecap="round" opacity="0.88"/>
<path d="M877.8 116.9 Q881.4 115.9 884.9 116.9 L884.9 118.2 C883.5 130.6 879.2 130.6 877.8 118.2Z" fill="#0a1823" opacity="0.98"/>
<path d="M879.7 124.5 L883.1 124.5 L881.9 130.5 L880.9 130.5Z" fill="#0a1823" opacity="0.32"/>
<path d="M889.6 85.7 C890.4 89.3 896.8 89.3 897.7 85.7" fill="none" stroke="#0a1823" stroke-width="3.4" stroke-linecap="round" opacity="0.88"/>
<path d="M890.3 117.4 Q893.6 116.4 897.0 117.4 L897.0 118.7 C895.6 131.1 891.6 131.1 890.3 118.7Z" fill="#0a1823" opacity="0.98"/>
<path d="M891.9 125.0 L895.3 125.0 L894.1 133.0 L893.1 133.0Z" fill="#0a1823" opacity="0.32"/>
<path d="M902.5 85.7 C903.2 89.3 908.5 89.3 909.2 85.7" fill="none" stroke="#0a1823" stroke-width="1.5" stroke-linecap="round" opacity="0.34"/>
<path d="M902.8 119.9 Q905.9 118.9 908.9 119.9 L908.9 120.8 C907.7 130.4 904.0 130.4 902.8 120.8Z" fill="#0a1823" opacity="0.98"/>
<path d="M904.2 125.0 L907.6 125.0 L906.4 130.0 L905.4 130.0Z" fill="#0a1823" opacity="0.32"/>
<path d="M914.9 85.7 C915.5 89.3 920.7 89.3 921.3 85.7" fill="none" stroke="#0a1823" stroke-width="1.2" stroke-linecap="round" opacity="0.16"/>
<path d="M915.1 119.9 Q918.1 118.9 921.1 119.9 L921.1 120.8 C919.9 130.4 916.3 130.4 915.1 120.8Z" fill="#0a1823" opacity="0.98"/>
<path d="M916.4 125.0 L919.8 125.0 L918.6 130.0 L917.6 130.0Z" fill="#0a1823" opacity="0.32"/>
</g></g>
<linearGradient id="gm" x1="0" x2="0" y1="0" y2="1"><stop offset="0" stop-color="#5688ae"/><stop offset="0.55" stop-color="#6196bf"/><stop offset="1" stop-color="#6ea5cf"/></linearGradient>
<filter id="nz" x="0" y="0" width="100%" height="100%"><feTurbulence type="fractalNoise" baseFrequency="0.09 0.03" numOctaves="2" seed="4" result="t"/><feColorMatrix in="t" type="matrix" values="0 0 0 0 0.05  0 0 0 0 0.16  0 0 0 0 0.28  0 0 0 -2.2 1.25"/></filter>
<rect x="116.5" y="155.5" width="806.8" height="68.5" fill="#4c89bc"/>
<g clip-path="url(#cb)">
<rect x="406.5" y="155.5" width="116.5" height="68.5" fill="url(#gm)"/>
<linearGradient id="gmx" x1="0" x2="1" y1="0" y2="0"><stop offset="0" stop-color="#173a52" stop-opacity="0.5"/><stop offset="0.3" stop-color="#1d4560" stop-opacity="0.15"/><stop offset="1" stop-color="#244f70" stop-opacity="0"/></linearGradient>
<rect x="406.5" y="155.5" width="116.5" height="68.5" fill="url(#gmx)"/>
<rect x="524.5" y="155.5" width="68.5" height="68.5" fill="#7cb6e2"/>
<rect x="592" y="155.5" width="332" height="68.5" fill="#679ccb"/>
<linearGradient id="gr" x1="0" x2="1" y1="0" y2="0"><stop offset="0" stop-color="#2a5f8c" stop-opacity="0"/><stop offset="0.6" stop-color="#2a5f8c" stop-opacity="0.12"/><stop offset="1" stop-color="#2a5f8c" stop-opacity="0.4"/></linearGradient>
<rect x="780" y="155.5" width="144" height="68.5" fill="url(#gr)"/>
<rect x="592" y="155.5" width="332" height="68.5" filter="url(#nz)" opacity="0.3"/>
<g filter="url(#b3)">
<rect x="117.3" y="152.5" width="9.2" height="74.5" fill="#0a1b22" opacity="0.97"/>
<rect x="113.5" y="152.5" width="6" height="74.5" fill="#0a1b22" opacity="0.97"/>
<rect x="129.5" y="152.5" width="9.2" height="74.5" fill="#0a1b22" opacity="0.97"/>
<rect x="141.8" y="152.5" width="9.2" height="74.5" fill="#0a1b22" opacity="0.97"/>
<rect x="154.0" y="152.5" width="9.2" height="74.5" fill="#0a1b22" opacity="0.97"/>
<rect x="166.3" y="152.5" width="9.2" height="74.5" fill="#0a1b22" opacity="0.97"/>
<rect x="178.5" y="152.5" width="9.2" height="74.5" fill="#0a1b22" opacity="0.97"/>
<rect x="190.7" y="152.5" width="9.2" height="74.5" fill="#0a1b22" opacity="0.97"/>
<rect x="203.0" y="152.5" width="9.2" height="74.5" fill="#0a1b22" opacity="0.97"/>
<rect x="215.2" y="152.5" width="9.2" height="74.5" fill="#0a1b22" opacity="0.97"/>
<rect x="227.5" y="152.5" width="9.2" height="74.5" fill="#0a1b22" opacity="0.8"/>
<rect x="239.7" y="152.5" width="9.2" height="74.5" fill="#0a1b22" opacity="0.97"/>
<rect x="251.9" y="152.5" width="9.2" height="74.5" fill="#0a1b22" opacity="0.97"/>
<rect x="264.2" y="152.5" width="9.2" height="74.5" fill="#0a1b22" opacity="0.97"/>
<rect x="276.4" y="152.5" width="9.2" height="74.5" fill="#0a1b22" opacity="0.97"/>
<rect x="288.7" y="152.5" width="9.2" height="74.5" fill="#0a1b22" opacity="0.97"/>
<rect x="300.9" y="152.5" width="9.2" height="74.5" fill="#0a1b22" opacity="0.97"/>
<rect x="313.1" y="152.5" width="9.2" height="74.5" fill="#0a1b22" opacity="0.8"/>
<rect x="325.4" y="152.5" width="9.2" height="74.5" fill="#0a1b22" opacity="0.97"/>
<rect x="337.6" y="152.5" width="9.2" height="74.5" fill="#0a1b22" opacity="0.97"/>
<rect x="349.9" y="152.5" width="9.2" height="74.5" fill="#0a1b22" opacity="0.97"/>
<rect x="362.1" y="152.5" width="9.2" height="74.5" fill="#0a1b22" opacity="0.97"/>
<rect x="374.3" y="152.5" width="9.2" height="74.5" fill="#0a1b22" opacity="0.97"/>
<rect x="386.6" y="152.5" width="9.2" height="74.5" fill="#0a1b22" opacity="0.97"/>
<rect x="398.8" y="152.5" width="9.2" height="74.5" fill="#0a1b22" opacity="0.97"/>
<rect x="524.0" y="152.5" width="6.9" height="74.5" fill="#0a1b22" opacity="0.97"/>
<rect x="536.2" y="152.5" width="6.9" height="74.5" fill="#0a1b22" opacity="0.97"/>
<rect x="548.5" y="152.5" width="6.9" height="74.5" fill="#0a1b22" opacity="0.97"/>
<rect x="560.7" y="152.5" width="6.9" height="74.5" fill="#0a1b22" opacity="0.97"/>
<rect x="573.9" y="152.5" width="6.9" height="74.5" fill="#0a1b22" opacity="0.97"/>
<rect x="586.8" y="152.5" width="6.9" height="74.5" fill="#0a1b22" opacity="0.97"/>
</g>
<g filter="url(#b2)">
<rect x="413.5" y="158" width="5.6" height="48" fill="#1d3d57" opacity="0.42"/>
<ellipse cx="416.3" cy="163" rx="3" ry="3" fill="#1d3d57" opacity="0.35"/>
<ellipse cx="416.3" cy="176" rx="3" ry="4" fill="#1d3d57" opacity="0.3"/>
<rect x="425.7" y="158" width="5.6" height="48" fill="#1d3d57" opacity="0.42"/>
<ellipse cx="428.5" cy="163" rx="3" ry="3" fill="#1d3d57" opacity="0.35"/>
<ellipse cx="428.5" cy="176" rx="3" ry="4" fill="#1d3d57" opacity="0.3"/>
<rect x="437.9" y="158" width="5.6" height="48" fill="#1d3d57" opacity="0.42"/>
<ellipse cx="440.7" cy="163" rx="3" ry="3" fill="#1d3d57" opacity="0.35"/>
<ellipse cx="440.7" cy="176" rx="3" ry="4" fill="#1d3d57" opacity="0.3"/>
<rect x="450.2" y="158" width="5.6" height="48" fill="#1d3d57" opacity="0.42"/>
<ellipse cx="453.0" cy="163" rx="3" ry="3" fill="#1d3d57" opacity="0.35"/>
<ellipse cx="453.0" cy="176" rx="3" ry="4" fill="#1d3d57" opacity="0.3"/>
<rect x="462.4" y="158" width="5.6" height="48" fill="#1d3d57" opacity="0.42"/>
<ellipse cx="465.2" cy="163" rx="3" ry="3" fill="#1d3d57" opacity="0.35"/>
<ellipse cx="465.2" cy="176" rx="3" ry="4" fill="#1d3d57" opacity="0.3"/>
<rect x="474.7" y="158" width="5.6" height="48" fill="#1d3d57" opacity="0.42"/>
<ellipse cx="477.5" cy="163" rx="3" ry="3" fill="#1d3d57" opacity="0.35"/>
<ellipse cx="477.5" cy="176" rx="3" ry="4" fill="#1d3d57" opacity="0.3"/>
<rect x="486.9" y="158" width="5.6" height="48" fill="#1d3d57" opacity="0.42"/>
<ellipse cx="489.7" cy="163" rx="3" ry="3" fill="#1d3d57" opacity="0.35"/>
<ellipse cx="489.7" cy="176" rx="3" ry="4" fill="#1d3d57" opacity="0.3"/>
<rect x="499.1" y="158" width="5.6" height="48" fill="#1d3d57" opacity="0.42"/>
<ellipse cx="501.9" cy="163" rx="3" ry="3" fill="#1d3d57" opacity="0.35"/>
<ellipse cx="501.9" cy="176" rx="3" ry="4" fill="#1d3d57" opacity="0.3"/>
<rect x="511.4" y="158" width="5.6" height="48" fill="#1d3d57" opacity="0.42"/>
<ellipse cx="514.2" cy="163" rx="3" ry="3" fill="#1d3d57" opacity="0.35"/>
<ellipse cx="514.2" cy="176" rx="3" ry="4" fill="#1d3d57" opacity="0.3"/>
<rect x="596.9" y="160" width="6" height="60" fill="#2a5a85" opacity="0.10"/>
<rect x="609.1" y="160" width="6" height="60" fill="#2a5a85" opacity="0.10"/>
<rect x="621.3" y="160" width="6" height="60" fill="#2a5a85" opacity="0.10"/>
<rect x="633.6" y="160" width="6" height="60" fill="#2a5a85" opacity="0.10"/>
<rect x="645.8" y="160" width="6" height="60" fill="#2a5a85" opacity="0.10"/>
<rect x="658.1" y="160" width="6" height="60" fill="#2a5a85" opacity="0.10"/>
<rect x="670.3" y="160" width="6" height="60" fill="#2a5a85" opacity="0.10"/>
<rect x="682.5" y="160" width="6" height="60" fill="#2a5a85" opacity="0.10"/>
<rect x="694.8" y="160" width="6" height="60" fill="#2a5a85" opacity="0.10"/>
<rect x="707.0" y="160" width="6" height="60" fill="#2a5a85" opacity="0.10"/>
<rect x="719.3" y="160" width="6" height="60" fill="#2a5a85" opacity="0.10"/>
<rect x="731.5" y="160" width="6" height="60" fill="#2a5a85" opacity="0.10"/>
<rect x="743.7" y="160" width="6" height="60" fill="#2a5a85" opacity="0.10"/>
<rect x="756.0" y="160" width="6" height="60" fill="#2a5a85" opacity="0.10"/>
<rect x="768.2" y="160" width="6" height="60" fill="#2a5a85" opacity="0.10"/>
<rect x="780.5" y="160" width="6" height="60" fill="#2a5a85" opacity="0.10"/>
<rect x="792.7" y="160" width="6" height="60" fill="#2a5a85" opacity="0.10"/>
<rect x="804.9" y="160" width="6" height="60" fill="#2a5a85" opacity="0.10"/>
<rect x="817.2" y="160" width="6" height="60" fill="#2a5a85" opacity="0.10"/>
<rect x="829.4" y="160" width="6" height="60" fill="#2a5a85" opacity="0.10"/>
<rect x="841.7" y="160" width="6" height="60" fill="#2a5a85" opacity="0.10"/>
<rect x="853.9" y="160" width="6" height="60" fill="#2a5a85" opacity="0.10"/>
<rect x="866.1" y="160" width="6" height="60" fill="#2a5a85" opacity="0.10"/>
<rect x="878.4" y="160" width="6" height="60" fill="#2a5a85" opacity="0.10"/>
<rect x="890.6" y="160" width="6" height="60" fill="#2a5a85" opacity="0.10"/>
<rect x="902.9" y="160" width="6" height="60" fill="#2a5a85" opacity="0.10"/>
<rect x="915.1" y="160" width="6" height="60" fill="#2a5a85" opacity="0.10"/>
<rect x="620.5" y="160" width="5" height="50" fill="#1f4a72" opacity="0.16"/>
<rect x="632.5" y="165" width="5" height="45" fill="#1f4a72" opacity="0.14"/>
<rect x="685.5" y="170" width="5" height="40" fill="#1f4a72" opacity="0.13"/>
<rect x="697.5" y="160" width="5" height="60" fill="#1f4a72" opacity="0.1"/>
<rect x="749.5" y="165" width="5" height="50" fill="#1f4a72" opacity="0.2"/>
<rect x="758.5" y="160" width="5" height="40" fill="#1f4a72" opacity="0.13"/>
<rect x="797.5" y="170" width="5" height="45" fill="#1f4a72" opacity="0.1"/>
<rect x="842.5" y="160" width="5" height="55" fill="#1f4a72" opacity="0.12"/>
<rect x="879.5" y="160" width="5" height="45" fill="#1f4a72" opacity="0.24"/>
<rect x="890.5" y="165" width="5" height="50" fill="#1f4a72" opacity="0.16"/>
<rect x="907.5" y="160" width="5" height="60" fill="#1f4a72" opacity="0.13"/>
</g>
<g filter="url(#b2)">
<ellipse cx="424" cy="172" rx="9" ry="22" fill="#1f4058" opacity="0.35"/>
<ellipse cx="440" cy="190" rx="6" ry="14" fill="#1f4058" opacity="0.3"/>
<ellipse cx="505" cy="170" rx="8" ry="14" fill="#1f4058" opacity="0.18"/>
</g>
<circle cx="461.9" cy="193.8" r="0.81" fill="#10273a" opacity="0.54"/>
<circle cx="467.8" cy="195.6" r="0.44" fill="#10273a" opacity="0.55"/>
<circle cx="481.0" cy="208.8" r="0.40" fill="#10273a" opacity="0.47"/>
<circle cx="422.8" cy="209.8" r="0.70" fill="#10273a" opacity="0.37"/>
<circle cx="519.1" cy="219.7" r="0.68" fill="#10273a" opacity="0.60"/>
<circle cx="430.0" cy="159.0" r="0.61" fill="#10273a" opacity="0.37"/>
<circle cx="433.5" cy="173.5" r="0.37" fill="#10273a" opacity="0.54"/>
<circle cx="460.6" cy="211.9" r="0.61" fill="#10273a" opacity="0.61"/>
<circle cx="467.0" cy="200.4" r="0.58" fill="#10273a" opacity="0.46"/>
<circle cx="520.7" cy="221.7" r="0.77" fill="#10273a" opacity="0.63"/>
<circle cx="447.0" cy="172.7" r="0.49" fill="#10273a" opacity="0.38"/>
<circle cx="495.8" cy="183.6" r="0.77" fill="#10273a" opacity="0.50"/>
<circle cx="516.5" cy="212.2" r="0.35" fill="#10273a" opacity="0.43"/>
<circle cx="511.3" cy="188.1" r="0.84" fill="#10273a" opacity="0.51"/>
<circle cx="420.9" cy="198.3" r="0.74" fill="#10273a" opacity="0.46"/>
<circle cx="422.4" cy="179.3" r="0.83" fill="#10273a" opacity="0.65"/>
<circle cx="425.7" cy="173.8" r="0.40" fill="#10273a" opacity="0.37"/>
<circle cx="499.1" cy="169.4" r="0.63" fill="#10273a" opacity="0.53"/>
<circle cx="433.6" cy="204.8" r="0.42" fill="#10273a" opacity="0.61"/>
<circle cx="425.6" cy="184.9" r="0.46" fill="#10273a" opacity="0.46"/>
<circle cx="517.9" cy="209.4" r="0.50" fill="#10273a" opacity="0.70"/>
<circle cx="435.8" cy="183.2" r="0.78" fill="#10273a" opacity="0.61"/>
<circle cx="423.8" cy="221.3" r="0.46" fill="#10273a" opacity="0.45"/>
<circle cx="496.5" cy="179.1" r="0.50" fill="#10273a" opacity="0.38"/>
<circle cx="422.7" cy="195.3" r="0.47" fill="#10273a" opacity="0.59"/>
<circle cx="453.1" cy="187.0" r="0.83" fill="#10273a" opacity="0.54"/>
<circle cx="475.1" cy="213.5" r="0.44" fill="#10273a" opacity="0.41"/>
<circle cx="511.1" cy="210.3" r="0.47" fill="#10273a" opacity="0.43"/>
<circle cx="492.9" cy="218.2" r="0.45" fill="#10273a" opacity="0.73"/>
<circle cx="508.3" cy="196.6" r="0.56" fill="#10273a" opacity="0.39"/>
<circle cx="417.2" cy="219.6" r="0.47" fill="#10273a" opacity="0.63"/>
<circle cx="440.8" cy="210.7" r="0.65" fill="#10273a" opacity="0.47"/>
<circle cx="431.9" cy="204.1" r="0.38" fill="#10273a" opacity="0.44"/>
<circle cx="473.4" cy="212.6" r="0.66" fill="#10273a" opacity="0.46"/>
<circle cx="512.1" cy="171.1" r="0.36" fill="#10273a" opacity="0.46"/>
<circle cx="461.1" cy="161.9" r="0.44" fill="#10273a" opacity="0.50"/>
<circle cx="474.8" cy="166.4" r="0.53" fill="#10273a" opacity="0.71"/>
<circle cx="518.9" cy="200.0" r="0.70" fill="#10273a" opacity="0.58"/>
<circle cx="428.2" cy="160.2" r="0.36" fill="#10273a" opacity="0.71"/>
<circle cx="488.7" cy="219.6" r="0.36" fill="#10273a" opacity="0.60"/>
<circle cx="465.1" cy="204.8" r="0.51" fill="#10273a" opacity="0.75"/>
<circle cx="421.1" cy="193.0" r="0.72" fill="#10273a" opacity="0.71"/>
<circle cx="492.6" cy="203.0" r="0.75" fill="#10273a" opacity="0.72"/>
<circle cx="451.0" cy="201.8" r="0.80" fill="#10273a" opacity="0.70"/>
<circle cx="458.1" cy="208.6" r="0.78" fill="#10273a" opacity="0.58"/>
<circle cx="480.5" cy="182.5" r="0.64" fill="#10273a" opacity="0.59"/>
<circle cx="421.7" cy="198.9" r="0.85" fill="#10273a" opacity="0.70"/>
<circle cx="491.6" cy="182.9" r="0.72" fill="#10273a" opacity="0.58"/>
<circle cx="460.6" cy="211.7" r="0.39" fill="#10273a" opacity="0.65"/>
<circle cx="416.2" cy="196.5" r="0.59" fill="#10273a" opacity="0.44"/>
<circle cx="488.4" cy="189.8" r="0.66" fill="#10273a" opacity="0.72"/>
<circle cx="440.6" cy="158.7" r="0.50" fill="#10273a" opacity="0.62"/>
<circle cx="434.9" cy="168.9" r="0.80" fill="#10273a" opacity="0.61"/>
<circle cx="460.7" cy="215.1" r="0.51" fill="#10273a" opacity="0.62"/>
<circle cx="434.4" cy="185.6" r="0.75" fill="#10273a" opacity="0.72"/>
<g filter="url(#b3)">
<ellipse cx="433.5" cy="221.5" rx="10.5" ry="8.5" fill="#050f15"/>
<ellipse cx="420" cy="224.5" rx="8" ry="5" fill="#050f15"/>
<ellipse cx="443" cy="225" rx="6" ry="4" fill="#050f15"/>
</g></g>
<g fill="#606060">
<rect x="83.00" y="318.75" width="9.9" height="137.65"/>
<rect x="87.20" y="316.25" width="1.5" height="2.50" fill="#484848"/>
<rect x="84.95" y="315.4" width="6" height="1.7" fill="#262626"/>
<rect x="98.27" y="432.5" width="9.9" height="23.90"/>
<rect x="102.47" y="427.5" width="1.5" height="5.00" fill="#484848"/>
<rect x="100.22" y="426.65" width="6" height="1.7" fill="#262626"/>
<rect x="113.54" y="320" width="9.9" height="136.40"/>
<rect x="115.49" y="318.8" width="6" height="1.3" fill="#3a3a3a"/>
<rect x="128.81" y="320.25" width="9.9" height="136.15"/>
<rect x="130.76" y="319.05" width="6" height="1.3" fill="#3a3a3a"/>
<rect x="144.08" y="435.5" width="9.9" height="20.90"/>
<rect x="148.28" y="432" width="1.5" height="3.50" fill="#484848"/>
<rect x="146.03" y="431.15" width="6" height="1.7" fill="#262626"/>
<rect x="159.35" y="320" width="9.9" height="136.40"/>
<rect x="161.30" y="318.8" width="6" height="1.3" fill="#3a3a3a"/>
<rect x="174.62" y="319.5" width="9.9" height="136.90"/>
<rect x="176.57" y="318.3" width="6" height="1.3" fill="#3a3a3a"/>
<rect x="189.89" y="331.25" width="9.9" height="125.15"/>
<rect x="194.09" y="325.5" width="1.5" height="5.75" fill="#484848"/>
<rect x="191.84" y="324.65" width="6" height="1.7" fill="#262626"/>
<rect x="205.16" y="331.75" width="9.9" height="124.65"/>
<rect x="209.36" y="320.5" width="1.5" height="11.25" fill="#484848"/>
<rect x="207.11" y="319.65" width="6" height="1.7" fill="#262626"/>
<rect x="220.43" y="321.75" width="9.9" height="134.65"/>
<rect x="224.63" y="316.5" width="1.5" height="5.25" fill="#484848"/>
<rect x="222.38" y="315.65" width="6" height="1.7" fill="#262626"/>
<rect x="235.70" y="340.5" width="9.9" height="115.90"/>
<rect x="239.90" y="321.5" width="1.5" height="19.00" fill="#484848"/>
<rect x="237.65" y="320.65" width="6" height="1.7" fill="#262626"/>
<rect x="250.97" y="320.25" width="9.9" height="136.15"/>
<rect x="252.92" y="319.05" width="6" height="1.3" fill="#3a3a3a"/>
<rect x="266.24" y="435.5" width="9.9" height="20.90"/>
<rect x="270.44" y="434.5" width="1.5" height="1.00" fill="#484848"/>
<rect x="268.19" y="433.65" width="6" height="1.7" fill="#262626"/>
<rect x="281.51" y="435" width="9.9" height="21.40"/>
<rect x="285.71" y="432.5" width="1.5" height="2.50" fill="#484848"/>
<rect x="283.46" y="431.65" width="6" height="1.7" fill="#262626"/>
<rect x="296.78" y="416.25" width="9.9" height="40.15"/>
<rect x="300.98" y="413.75" width="1.5" height="2.50" fill="#484848"/>
<rect x="298.73" y="412.9" width="6" height="1.7" fill="#262626"/>
<rect x="312.05" y="319.7" width="9.9" height="136.70"/>
<rect x="314.00" y="318.5" width="6" height="1.3" fill="#3a3a3a"/>
<rect x="327.32" y="319.7" width="9.9" height="136.70"/>
<rect x="329.27" y="318.5" width="6" height="1.3" fill="#3a3a3a"/>
<rect x="342.59" y="440" width="9.9" height="16.40"/>
<rect x="346.79" y="437" width="1.5" height="3.00" fill="#484848"/>
<rect x="344.54" y="436.15" width="6" height="1.7" fill="#262626"/>
<rect x="357.86" y="443.75" width="9.9" height="12.65"/>
<rect x="362.06" y="440.75" width="1.5" height="3.00" fill="#484848"/>
<rect x="359.81" y="439.9" width="6" height="1.7" fill="#262626"/>
<rect x="373.13" y="441.25" width="9.9" height="15.15"/>
<rect x="377.33" y="439" width="1.5" height="2.25" fill="#484848"/>
<rect x="375.08" y="438.15" width="6" height="1.7" fill="#262626"/>
<rect x="388.40" y="439" width="9.9" height="17.40"/>
<rect x="392.60" y="436.5" width="1.5" height="2.50" fill="#484848"/>
<rect x="390.35" y="435.65" width="6" height="1.7" fill="#262626"/>
<rect x="403.67" y="436.75" width="9.9" height="19.65"/>
<rect x="407.87" y="431.75" width="1.5" height="5.00" fill="#484848"/>
<rect x="405.62" y="430.9" width="6" height="1.7" fill="#262626"/>
<rect x="418.94" y="432.5" width="9.9" height="23.90"/>
<rect x="423.14" y="424.25" width="1.5" height="8.25" fill="#484848"/>
<rect x="420.89" y="423.4" width="6" height="1.7" fill="#262626"/>
<rect x="434.21" y="432.5" width="9.9" height="23.90"/>
<rect x="438.41" y="424.25" width="1.5" height="8.25" fill="#484848"/>
<rect x="436.16" y="423.4" width="6" height="1.7" fill="#262626"/>
<rect x="449.48" y="432.5" width="9.9" height="23.90"/>
<rect x="453.68" y="425" width="1.5" height="7.50" fill="#484848"/>
<rect x="451.43" y="424.15" width="6" height="1.7" fill="#262626"/>
<rect x="464.75" y="438" width="9.9" height="18.40"/>
<rect x="468.95" y="430" width="1.5" height="8.00" fill="#484848"/>
<rect x="466.70" y="429.15" width="6" height="1.7" fill="#262626"/>
</g>
<rect x="79.8" y="251.59999999999997" width="1.6" height="205.5" fill="#000"/>
<rect x="79.8" y="455.7" width="398.2" height="1.4" fill="#000"/>
<g font-family="'Liberation Sans',sans-serif" font-weight="bold" fill="#000" stroke="#000" stroke-width="0.25">
<rect x="75.39999999999999" y="455.59999999999997" width="5.2" height="1.6" fill="#000"/>
<text x="75.19999999999999" y="460.78" font-size="10.5" stroke="none" text-anchor="end" textLength="12.70" lengthAdjust="spacingAndGlyphs">0.0</text>
<rect x="75.39999999999999" y="387.59999999999997" width="5.2" height="1.6" fill="#000"/>
<text x="75.19999999999999" y="392.78" font-size="10.5" stroke="none" text-anchor="end" textLength="12.70" lengthAdjust="spacingAndGlyphs">0.5</text>
<rect x="75.39999999999999" y="319.59999999999997" width="5.2" height="1.6" fill="#000"/>
<text x="75.19999999999999" y="324.78" font-size="10.5" stroke="none" text-anchor="end" textLength="12.70" lengthAdjust="spacingAndGlyphs">1.0</text>
<rect x="75.39999999999999" y="251.59999999999997" width="5.2" height="1.6" fill="#000"/>
<text x="75.19999999999999" y="256.78" font-size="10.5" stroke="none" text-anchor="end" textLength="12.70" lengthAdjust="spacingAndGlyphs">1.5</text>
<rect x="87.20" y="456.4" width="1.5" height="3.4" fill="#000"/>
<text transform="translate(91.73,461.90) rotate(-90)" font-size="10.5" font-weight="bold" text-anchor="end" textLength="28.0" lengthAdjust="spacingAndGlyphs">1.2Wt</text>
<rect x="102.47" y="456.4" width="1.5" height="3.4" fill="#000"/>
<text transform="translate(107.00,461.90) rotate(-90)" font-size="10.5" font-weight="normal" text-anchor="end" textLength="38.8" lengthAdjust="spacingAndGlyphs">1.2Wt(-)</text>
<rect x="117.74" y="456.4" width="1.5" height="3.4" fill="#000"/>
<text transform="translate(122.27,461.90) rotate(-90)" font-size="10.5" font-weight="bold" text-anchor="end" textLength="24.0" lengthAdjust="spacingAndGlyphs">X-Wt</text>
<rect x="133.01" y="456.4" width="1.5" height="3.4" fill="#000"/>
<text transform="translate(137.54,461.90) rotate(-90)" font-size="10.5" font-weight="bold" text-anchor="end" textLength="24.5" lengthAdjust="spacingAndGlyphs">X-D1</text>
<rect x="148.28" y="456.4" width="1.5" height="3.4" fill="#000"/>
<text transform="translate(152.81,461.90) rotate(-90)" font-size="10.5" font-weight="bold" text-anchor="end" textLength="24.5" lengthAdjust="spacingAndGlyphs">X-D5</text>
<rect x="163.55" y="456.4" width="1.5" height="3.4" fill="#000"/>
<text transform="translate(168.08,461.90) rotate(-90)" font-size="10.5" font-weight="bold" text-anchor="end" textLength="33.5" lengthAdjust="spacingAndGlyphs">X-Cm1</text>
<rect x="178.82" y="456.4" width="1.5" height="3.4" fill="#000"/>
<text transform="translate(183.35,461.90) rotate(-90)" font-size="10.5" font-weight="bold" text-anchor="end" textLength="33.5" lengthAdjust="spacingAndGlyphs">X-Cm2</text>
<rect x="194.09" y="456.4" width="1.5" height="3.4" fill="#000"/>
<text transform="translate(198.62,461.90) rotate(-90)" font-size="10.5" font-weight="bold" text-anchor="end" textLength="33.5" lengthAdjust="spacingAndGlyphs">X-Cm3</text>
<rect x="209.36" y="456.4" width="1.5" height="3.4" fill="#000"/>
<text transform="translate(213.89,461.90) rotate(-90)" font-size="10.5" font-weight="bold" text-anchor="end" textLength="33.5" lengthAdjust="spacingAndGlyphs">X-Cm4</text>
<rect x="224.63" y="456.4" width="1.5" height="3.4" fill="#000"/>
<text transform="translate(229.16,461.90) rotate(-90)" font-size="10.5" font-weight="bold" text-anchor="end" textLength="33.5" lengthAdjust="spacingAndGlyphs">X-Cm5</text>
<rect x="239.90" y="456.4" width="1.5" height="3.4" fill="#000"/>
<text transform="translate(244.43,461.90) rotate(-90)" font-size="10.5" font-weight="bold" text-anchor="end" textLength="33.5" lengthAdjust="spacingAndGlyphs">X-Cm6</text>
<rect x="255.17" y="456.4" width="1.5" height="3.4" fill="#000"/>
<text transform="translate(259.70,461.90) rotate(-90)" font-size="10.5" font-weight="bold" text-anchor="end" textLength="33.5" lengthAdjust="spacingAndGlyphs">X-Cm7</text>
<rect x="270.44" y="456.4" width="1.5" height="3.4" fill="#000"/>
<text transform="translate(274.97,461.90) rotate(-90)" font-size="10.5" font-weight="bold" text-anchor="end" textLength="33.5" lengthAdjust="spacingAndGlyphs">X-Cm8</text>
<rect x="285.71" y="456.4" width="1.5" height="3.4" fill="#000"/>
<text transform="translate(290.24,461.90) rotate(-90)" font-size="10.5" font-weight="bold" text-anchor="end" textLength="33.5" lengthAdjust="spacingAndGlyphs">X-Cm9</text>
<rect x="300.98" y="456.4" width="1.5" height="3.4" fill="#000"/>
<text transform="translate(305.51,461.90) rotate(-90)" font-size="10.5" font-weight="bold" text-anchor="end" textLength="40.0" lengthAdjust="spacingAndGlyphs">X-Cm10</text>
<rect x="316.25" y="456.4" width="1.5" height="3.4" fill="#000"/>
<text transform="translate(320.78,461.90) rotate(-90)" font-size="10.5" font-weight="bold" text-anchor="end" textLength="40.0" lengthAdjust="spacingAndGlyphs">X-Cm11</text>
<rect x="331.52" y="456.4" width="1.5" height="3.4" fill="#000"/>
<text transform="translate(336.05,461.90) rotate(-90)" font-size="10.5" font-weight="bold" text-anchor="end" textLength="40.0" lengthAdjust="spacingAndGlyphs">X-Cm12</text>
<rect x="346.79" y="456.4" width="1.5" height="3.4" fill="#000"/>
<text transform="translate(351.32,461.90) rotate(-90)" font-size="10.5" font-weight="bold" text-anchor="end" textLength="40.0" lengthAdjust="spacingAndGlyphs">X-Cm13</text>
<rect x="362.06" y="456.4" width="1.5" height="3.4" fill="#000"/>
<text transform="translate(366.59,461.90) rotate(-90)" font-size="10.5" font-weight="bold" text-anchor="end" textLength="40.0" lengthAdjust="spacingAndGlyphs">X-Cm14</text>
<rect x="377.33" y="456.4" width="1.5" height="3.4" fill="#000"/>
<text transform="translate(381.86,461.90) rotate(-90)" font-size="10.5" font-weight="bold" text-anchor="end" textLength="40.0" lengthAdjust="spacingAndGlyphs">X-Cm15</text>
<rect x="392.60" y="456.4" width="1.5" height="3.4" fill="#000"/>
<text transform="translate(397.13,461.90) rotate(-90)" font-size="10.5" font-weight="bold" text-anchor="end" textLength="40.0" lengthAdjust="spacingAndGlyphs">X-Cm16</text>
<rect x="407.87" y="456.4" width="1.5" height="3.4" fill="#000"/>
<text transform="translate(412.40,461.90) rotate(-90)" font-size="10.5" font-weight="bold" text-anchor="end" textLength="40.0" lengthAdjust="spacingAndGlyphs">X-Cm17</text>
<rect x="423.14" y="456.4" width="1.5" height="3.4" fill="#000"/>
<text transform="translate(427.67,461.90) rotate(-90)" font-size="10.5" font-weight="bold" text-anchor="end" textLength="40.0" lengthAdjust="spacingAndGlyphs">X-Cm18</text>
<rect x="438.41" y="456.4" width="1.5" height="3.4" fill="#000"/>
<text transform="translate(442.94,461.90) rotate(-90)" font-size="10.5" font-weight="bold" text-anchor="end" textLength="40.0" lengthAdjust="spacingAndGlyphs">X-Cm19</text>
<rect x="453.68" y="456.4" width="1.5" height="3.4" fill="#000"/>
<text transform="translate(458.21,461.90) rotate(-90)" font-size="10.5" font-weight="bold" text-anchor="end" textLength="40.0" lengthAdjust="spacingAndGlyphs">X-Cm20</text>
<rect x="468.95" y="456.4" width="1.5" height="3.4" fill="#000"/>
<text transform="translate(473.48,461.90) rotate(-90)" font-size="10.5" font-weight="bold" text-anchor="end" textLength="40.0" lengthAdjust="spacingAndGlyphs">X-Cm21</text>
</g>
<g fill="#606060">
<rect x="645.50" y="309" width="8.5" height="147.80"/>
<rect x="649.00" y="307" width="1.5" height="2.00" fill="#484848"/>
<rect x="646.75" y="306.15" width="6" height="1.7" fill="#262626"/>
<rect x="658.94" y="434.25" width="8.5" height="22.55"/>
<rect x="662.44" y="431.25" width="1.5" height="3.00" fill="#484848"/>
<rect x="660.19" y="430.4" width="6" height="1.7" fill="#262626"/>
<rect x="672.38" y="310.5" width="8.5" height="146.30"/>
<rect x="673.63" y="309.3" width="6" height="1.3" fill="#3a3a3a"/>
<rect x="685.82" y="310.5" width="8.5" height="146.30"/>
<rect x="687.07" y="309.3" width="6" height="1.3" fill="#3a3a3a"/>
<rect x="699.26" y="432.5" width="8.5" height="24.30"/>
<rect x="702.76" y="427.5" width="1.5" height="5.00" fill="#484848"/>
<rect x="700.51" y="426.65" width="6" height="1.7" fill="#262626"/>
<rect x="712.70" y="295.5" width="8.5" height="161.30"/>
<rect x="716.20" y="285" width="1.5" height="10.50" fill="#484848"/>
<rect x="713.95" y="284.15" width="6" height="1.7" fill="#262626"/>
<rect x="726.14" y="301.25" width="8.5" height="155.55"/>
<rect x="729.64" y="294.25" width="1.5" height="7.00" fill="#484848"/>
<rect x="727.39" y="293.4" width="6" height="1.7" fill="#262626"/>
<rect x="739.58" y="310.75" width="8.5" height="146.05"/>
<rect x="740.83" y="309.55" width="6" height="1.3" fill="#3a3a3a"/>
<rect x="753.02" y="309.25" width="8.5" height="147.55"/>
<rect x="756.52" y="302" width="1.5" height="7.25" fill="#484848"/>
<rect x="754.27" y="301.15" width="6" height="1.7" fill="#262626"/>
<rect x="766.46" y="308.75" width="8.5" height="148.05"/>
<rect x="769.96" y="305" width="1.5" height="3.75" fill="#484848"/>
<rect x="767.71" y="304.15" width="6" height="1.7" fill="#262626"/>
<rect x="779.90" y="313.75" width="8.5" height="143.05"/>
<rect x="783.40" y="310.75" width="1.5" height="3.00" fill="#484848"/>
<rect x="781.15" y="309.9" width="6" height="1.7" fill="#262626"/>
<rect x="793.34" y="310" width="8.5" height="146.80"/>
<rect x="794.59" y="308.8" width="6" height="1.3" fill="#3a3a3a"/>
<rect x="806.78" y="435" width="8.5" height="21.80"/>
<rect x="810.28" y="433.75" width="1.5" height="1.25" fill="#484848"/>
<rect x="808.03" y="432.9" width="6" height="1.7" fill="#262626"/>
<rect x="820.22" y="435" width="8.5" height="21.80"/>
<rect x="823.72" y="431.5" width="1.5" height="3.50" fill="#484848"/>
<rect x="821.47" y="430.65" width="6" height="1.7" fill="#262626"/>
<rect x="833.66" y="424.5" width="8.5" height="32.30"/>
<rect x="837.16" y="419" width="1.5" height="5.50" fill="#484848"/>
<rect x="834.91" y="418.15" width="6" height="1.7" fill="#262626"/>
<rect x="847.10" y="307.5" width="8.5" height="149.30"/>
<rect x="850.60" y="301.5" width="1.5" height="6.00" fill="#484848"/>
<rect x="848.35" y="300.65" width="6" height="1.7" fill="#262626"/>
<rect x="860.54" y="306.25" width="8.5" height="150.55"/>
<rect x="864.04" y="301" width="1.5" height="5.25" fill="#484848"/>
<rect x="861.79" y="300.15" width="6" height="1.7" fill="#262626"/>
<rect x="873.98" y="441.25" width="8.5" height="15.55"/>
<rect x="877.48" y="438.5" width="1.5" height="2.75" fill="#484848"/>
<rect x="875.23" y="437.65" width="6" height="1.7" fill="#262626"/>
<rect x="887.42" y="436" width="8.5" height="20.80"/>
<rect x="888.67" y="434.8" width="6" height="1.3" fill="#3a3a3a"/>
<rect x="900.86" y="435.5" width="8.5" height="21.30"/>
<rect x="902.11" y="434.3" width="6" height="1.3" fill="#3a3a3a"/>
<rect x="914.30" y="438.75" width="8.5" height="18.05"/>
<rect x="917.80" y="437" width="1.5" height="1.75" fill="#484848"/>
<rect x="915.55" y="436.15" width="6" height="1.7" fill="#262626"/>
<rect x="927.74" y="435" width="8.5" height="21.80"/>
<rect x="928.99" y="433.8" width="6" height="1.3" fill="#3a3a3a"/>
<rect x="941.18" y="439.5" width="8.5" height="17.30"/>
<rect x="942.43" y="438.3" width="6" height="1.3" fill="#3a3a3a"/>
<rect x="954.62" y="435.75" width="8.5" height="21.05"/>
<rect x="958.12" y="432" width="1.5" height="3.75" fill="#484848"/>
<rect x="955.87" y="431.15" width="6" height="1.7" fill="#262626"/>
<rect x="968.06" y="432.5" width="8.5" height="24.30"/>
<rect x="971.56" y="426.5" width="1.5" height="6.00" fill="#484848"/>
<rect x="969.31" y="425.65" width="6" height="1.7" fill="#262626"/>
<rect x="981.50" y="439.5" width="8.5" height="17.30"/>
<rect x="985.00" y="438.25" width="1.5" height="1.25" fill="#484848"/>
<rect x="982.75" y="437.4" width="6" height="1.7" fill="#262626"/>
</g>
<rect x="641.2" y="236.10000000000002" width="1.6" height="221.39999999999998" fill="#000"/>
<rect x="641.2" y="456.1" width="351.3" height="1.4" fill="#000"/>
<g font-family="'Liberation Sans',sans-serif" font-weight="bold" fill="#000" stroke="#000" stroke-width="0.25">
<rect x="639" y="456.0" width="3" height="1.6" fill="#000"/>
<text x="638.8" y="461.14" font-size="10.4" stroke="none" text-anchor="end" textLength="12.58" lengthAdjust="spacingAndGlyphs">0.0</text>
<rect x="639" y="382.7" width="3" height="1.6" fill="#000"/>
<text x="638.8" y="387.84" font-size="10.4" stroke="none" text-anchor="end" textLength="12.58" lengthAdjust="spacingAndGlyphs">0.5</text>
<rect x="639" y="309.40000000000003" width="3" height="1.6" fill="#000"/>
<text x="638.8" y="314.54" font-size="10.4" stroke="none" text-anchor="end" textLength="12.58" lengthAdjust="spacingAndGlyphs">1.0</text>
<rect x="639" y="236.10000000000002" width="3" height="1.6" fill="#000"/>
<text x="638.8" y="241.24" font-size="10.4" stroke="none" text-anchor="end" textLength="12.58" lengthAdjust="spacingAndGlyphs">1.5</text>
<rect x="649.00" y="456.8" width="1.5" height="3.4" fill="#000"/>
<text transform="translate(652.42,462.30) rotate(-90)" font-size="8.8" font-weight="bold" text-anchor="end" textLength="28.5" lengthAdjust="spacingAndGlyphs">1.2Wt</text>
<rect x="662.44" y="456.8" width="1.5" height="3.4" fill="#000"/>
<text transform="translate(665.86,462.30) rotate(-90)" font-size="8.8" font-weight="normal" text-anchor="end" textLength="39.0" lengthAdjust="spacingAndGlyphs">1.2Wt(-)</text>
<rect x="675.88" y="456.8" width="1.5" height="3.4" fill="#000"/>
<text transform="translate(679.30,462.30) rotate(-90)" font-size="8.8" font-weight="bold" text-anchor="end" textLength="24.0" lengthAdjust="spacingAndGlyphs">X-Wt</text>
<rect x="689.32" y="456.8" width="1.5" height="3.4" fill="#000"/>
<text transform="translate(692.74,462.30) rotate(-90)" font-size="8.8" font-weight="bold" text-anchor="end" textLength="24.5" lengthAdjust="spacingAndGlyphs">X-D1</text>
<rect x="702.76" y="456.8" width="1.5" height="3.4" fill="#000"/>
<text transform="translate(706.18,462.30) rotate(-90)" font-size="8.8" font-weight="bold" text-anchor="end" textLength="24.5" lengthAdjust="spacingAndGlyphs">X-D5</text>
<rect x="716.20" y="456.8" width="1.5" height="3.4" fill="#000"/>
<text transform="translate(719.62,462.30) rotate(-90)" font-size="8.8" font-weight="bold" text-anchor="end" textLength="34.2" lengthAdjust="spacingAndGlyphs">X-Cm1</text>
<rect x="729.64" y="456.8" width="1.5" height="3.4" fill="#000"/>
<text transform="translate(733.06,462.30) rotate(-90)" font-size="8.8" font-weight="bold" text-anchor="end" textLength="34.2" lengthAdjust="spacingAndGlyphs">X-Cm2</text>
<rect x="743.08" y="456.8" width="1.5" height="3.4" fill="#000"/>
<text transform="translate(746.50,462.30) rotate(-90)" font-size="8.8" font-weight="bold" text-anchor="end" textLength="34.2" lengthAdjust="spacingAndGlyphs">X-Cm3</text>
<rect x="756.52" y="456.8" width="1.5" height="3.4" fill="#000"/>
<text transform="translate(759.94,462.30) rotate(-90)" font-size="8.8" font-weight="bold" text-anchor="end" textLength="34.2" lengthAdjust="spacingAndGlyphs">X-Cm4</text>
<rect x="769.96" y="456.8" width="1.5" height="3.4" fill="#000"/>
<text transform="translate(773.38,462.30) rotate(-90)" font-size="8.8" font-weight="bold" text-anchor="end" textLength="34.2" lengthAdjust="spacingAndGlyphs">X-Cm5</text>
<rect x="783.40" y="456.8" width="1.5" height="3.4" fill="#000"/>
<text transform="translate(786.82,462.30) rotate(-90)" font-size="8.8" font-weight="bold" text-anchor="end" textLength="34.2" lengthAdjust="spacingAndGlyphs">X-Cm6</text>
<rect x="796.84" y="456.8" width="1.5" height="3.4" fill="#000"/>
<text transform="translate(800.26,462.30) rotate(-90)" font-size="8.8" font-weight="bold" text-anchor="end" textLength="34.2" lengthAdjust="spacingAndGlyphs">X-Cm7</text>
<rect x="810.28" y="456.8" width="1.5" height="3.4" fill="#000"/>
<text transform="translate(813.70,462.30) rotate(-90)" font-size="8.8" font-weight="bold" text-anchor="end" textLength="34.2" lengthAdjust="spacingAndGlyphs">X-Cm8</text>
<rect x="823.72" y="456.8" width="1.5" height="3.4" fill="#000"/>
<text transform="translate(827.14,462.30) rotate(-90)" font-size="8.8" font-weight="bold" text-anchor="end" textLength="34.2" lengthAdjust="spacingAndGlyphs">X-Cm9</text>
<rect x="837.16" y="456.8" width="1.5" height="3.4" fill="#000"/>
<text transform="translate(840.58,462.30) rotate(-90)" font-size="8.8" font-weight="bold" text-anchor="end" textLength="41.0" lengthAdjust="spacingAndGlyphs">X-Cm10</text>
<rect x="850.60" y="456.8" width="1.5" height="3.4" fill="#000"/>
<text transform="translate(854.02,462.30) rotate(-90)" font-size="8.8" font-weight="bold" text-anchor="end" textLength="41.0" lengthAdjust="spacingAndGlyphs">X-Cm11</text>
<rect x="864.04" y="456.8" width="1.5" height="3.4" fill="#000"/>
<text transform="translate(867.46,462.30) rotate(-90)" font-size="8.8" font-weight="bold" text-anchor="end" textLength="41.0" lengthAdjust="spacingAndGlyphs">X-Cm12</text>
<rect x="877.48" y="456.8" width="1.5" height="3.4" fill="#000"/>
<text transform="translate(880.90,462.30) rotate(-90)" font-size="8.8" font-weight="bold" text-anchor="end" textLength="41.0" lengthAdjust="spacingAndGlyphs">X-Cm13</text>
<rect x="890.92" y="456.8" width="1.5" height="3.4" fill="#000"/>
<text transform="translate(894.34,462.30) rotate(-90)" font-size="8.8" font-weight="bold" text-anchor="end" textLength="41.0" lengthAdjust="spacingAndGlyphs">X-Cm14</text>
<rect x="904.36" y="456.8" width="1.5" height="3.4" fill="#000"/>
<text transform="translate(907.78,462.30) rotate(-90)" font-size="8.8" font-weight="bold" text-anchor="end" textLength="41.0" lengthAdjust="spacingAndGlyphs">X-Cm15</text>
<rect x="917.80" y="456.8" width="1.5" height="3.4" fill="#000"/>
<text transform="translate(921.22,462.30) rotate(-90)" font-size="8.8" font-weight="bold" text-anchor="end" textLength="41.0" lengthAdjust="spacingAndGlyphs">X-Cm16</text>
<rect x="931.24" y="456.8" width="1.5" height="3.4" fill="#000"/>
<text transform="translate(934.66,462.30) rotate(-90)" font-size="8.8" font-weight="bold" text-anchor="end" textLength="41.0" lengthAdjust="spacingAndGlyphs">X-Cm17</text>
<rect x="944.68" y="456.8" width="1.5" height="3.4" fill="#000"/>
<text transform="translate(948.10,462.30) rotate(-90)" font-size="8.8" font-weight="bold" text-anchor="end" textLength="41.0" lengthAdjust="spacingAndGlyphs">X-Cm18</text>
<rect x="958.12" y="456.8" width="1.5" height="3.4" fill="#000"/>
<text transform="translate(961.54,462.30) rotate(-90)" font-size="8.8" font-weight="bold" text-anchor="end" textLength="41.0" lengthAdjust="spacingAndGlyphs">X-Cm19</text>
<rect x="971.56" y="456.8" width="1.5" height="3.4" fill="#000"/>
<text transform="translate(974.98,462.30) rotate(-90)" font-size="8.8" font-weight="bold" text-anchor="end" textLength="41.0" lengthAdjust="spacingAndGlyphs">X-Cm20</text>
<rect x="985.00" y="456.8" width="1.5" height="3.4" fill="#000"/>
<text transform="translate(988.42,462.30) rotate(-90)" font-size="8.8" font-weight="bold" text-anchor="end" textLength="41.0" lengthAdjust="spacingAndGlyphs">X-Cm21</text>
</g>
<g font-family="'Liberation Sans','Noto Sans CJK SC',sans-serif" font-weight="bold" fill="#000" stroke="#000" stroke-width="0.2">
<text transform="translate(55.6,481.3) rotate(-90)" font-size="9.4" textLength="39.6" lengthAdjust="spacingAndGlyphs">Relative</text>
<text transform="translate(55.6,437.7) rotate(-90)" font-size="9.4" textLength="25" lengthAdjust="spacingAndGlyphs">level</text>
<text transform="translate(55.6,409.3) rotate(-90)" font-size="9.4" textLength="8.6" lengthAdjust="spacingAndGlyphs">of</text>
<text transform="translate(55.6,397.7) rotate(-90)" font-size="9.4" textLength="29.4" lengthAdjust="spacingAndGlyphs">3.5-kb</text>
<text transform="translate(55.6,363.2) rotate(-90)" font-size="9.4" textLength="20.1" lengthAdjust="spacingAndGlyphs">HBV</text>
<text transform="translate(55.6,339.7) rotate(-90)" font-size="9.4" textLength="28.7" lengthAdjust="spacingAndGlyphs">mRNA</text>
<text transform="translate(55.6,298.4) rotate(-90)" font-size="9.4" textLength="18.1" lengthAdjust="spacingAndGlyphs">%of</text>
<text transform="translate(55.6,275.9) rotate(-90)" font-size="9.4" textLength="38.7" lengthAdjust="spacingAndGlyphs">payw1.2</text>
<text transform="translate(55.4,311.2) rotate(-90)" font-size="8.8" font-weight="normal" stroke="none">（</text>
<text transform="translate(55.4,236.2) rotate(-90)" font-size="8.8" font-weight="normal" stroke="none">）</text>
<text transform="translate(605.9,457.5) rotate(-90)" font-size="10.6" textLength="42.2" lengthAdjust="spacingAndGlyphs">Relative</text>
<text transform="translate(605.9,410.3) rotate(-90)" font-size="10.6" textLength="24.1" lengthAdjust="spacingAndGlyphs">level</text>
<text transform="translate(605.9,382.6) rotate(-90)" font-size="10.6" textLength="10" lengthAdjust="spacingAndGlyphs">of</text>
<text transform="translate(605.9,368.2) rotate(-90)" font-size="10.6" textLength="24.1" lengthAdjust="spacingAndGlyphs">HBV</text>
<text transform="translate(605.9,340) rotate(-90)" font-size="10.6" textLength="22.5" lengthAdjust="spacingAndGlyphs">DNA</text>
<text transform="translate(605.9,314.3) rotate(-90)" font-size="10.6" textLength="78.3" lengthAdjust="spacingAndGlyphs">intermediates</text>
<text transform="translate(619.4,371.5) rotate(-90)" font-size="10.6" textLength="10" lengthAdjust="spacingAndGlyphs">of</text>
<text transform="translate(619.4,357) rotate(-90)" font-size="10.6" textLength="43.5" lengthAdjust="spacingAndGlyphs">payw1.2</text>
<text transform="translate(619.6,385.2) rotate(-90)" font-size="10" font-weight="normal" stroke="none">（</text>
<text transform="translate(619.4,313.2) rotate(-90)" font-size="10.6" font-weight="normal" stroke="none">)</text>
</g>
</svg></body></html>
